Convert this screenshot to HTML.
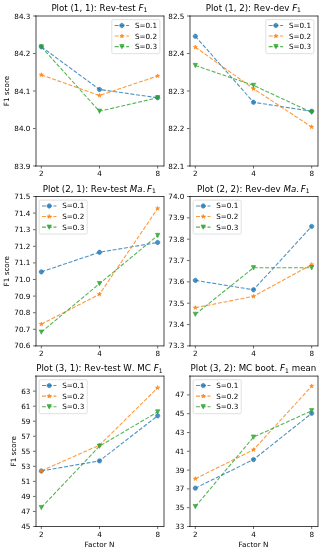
<!DOCTYPE html>
<html><head><meta charset="utf-8"><title>Plots</title>
<style>html,body{margin:0;padding:0;background:#fff;}body{width:322px;height:550px;overflow:hidden;}svg{display:block;}</style>
</head><body>
<svg width="322" height="550" viewBox="0 0 445.846 761.538">
<defs>
<style type="text/css">*{stroke-linejoin: round; stroke-linecap: butt}</style>
</defs>
<g id="figure_1">
<g id="patch_1">
<path d="M 0 761.538462 L 445.846154 761.538462 L 445.846154 0 L 0 0 z" style="fill: #ffffff"/>
</g>
<g id="axes_1">
<g id="patch_2">
<path d="M 49.153846 229.846154 L 226.384615 229.846154 L 226.384615 22.153846 L 49.153846 22.153846 z" style="fill: #ffffff"/>
</g>
<g id="matplotlib.axis_1">
<g id="xtick_1">
<g id="line2d_1">
<g>
<path d="M 0 0 L 0 3.5" transform="translate(57.20979 229.846154)" style="stroke: #000000; stroke-width: 0.8"/>
</g>
</g>
<g id="text_1">
<text style="font-size: 10px; font-family: 'DejaVu Sans', sans-serif; text-anchor: middle" x="57.20979" y="244.144591" transform="rotate(-0 57.20979 244.144591)">2</text>
</g>
</g>
<g id="xtick_2">
<g id="line2d_2">
<g>
<path d="M 0 0 L 0 3.5" transform="translate(137.769231 229.846154)" style="stroke: #000000; stroke-width: 0.8"/>
</g>
</g>
<g id="text_2">
<text style="font-size: 10px; font-family: 'DejaVu Sans', sans-serif; text-anchor: middle" x="137.769231" y="244.144591" transform="rotate(-0 137.769231 244.144591)">4</text>
</g>
</g>
<g id="xtick_3">
<g id="line2d_3">
<g>
<path d="M 0 0 L 0 3.5" transform="translate(218.328671 229.846154)" style="stroke: #000000; stroke-width: 0.8"/>
</g>
</g>
<g id="text_3">
<text style="font-size: 10px; font-family: 'DejaVu Sans', sans-serif; text-anchor: middle" x="218.328671" y="244.144591" transform="rotate(-0 218.328671 244.144591)">8</text>
</g>
</g>
</g>
<g id="matplotlib.axis_2">
<g id="ytick_1">
<g id="line2d_4">
<g>
<path d="M 0 0 L -3.5 0" transform="translate(49.153846 229.846154)" style="stroke: #000000; stroke-width: 0.8"/>
</g>
</g>
<g id="text_4">
<text style="font-size: 10px; font-family: 'DejaVu Sans', sans-serif; text-anchor: end" x="42.153846" y="233.36845" transform="rotate(-0 42.153846 233.36845)">83.9</text>
</g>
</g>
<g id="ytick_2">
<g id="line2d_5">
<g>
<path d="M 0 0 L -3.5 0" transform="translate(49.153846 177.923077)" style="stroke: #000000; stroke-width: 0.8"/>
</g>
</g>
<g id="text_5">
<text style="font-size: 10px; font-family: 'DejaVu Sans', sans-serif; text-anchor: end" x="42.153846" y="181.445373" transform="rotate(-0 42.153846 181.445373)">84.0</text>
</g>
</g>
<g id="ytick_3">
<g id="line2d_6">
<g>
<path d="M 0 0 L -3.5 0" transform="translate(49.153846 126)" style="stroke: #000000; stroke-width: 0.8"/>
</g>
</g>
<g id="text_6">
<text style="font-size: 10px; font-family: 'DejaVu Sans', sans-serif; text-anchor: end" x="42.153846" y="129.522296" transform="rotate(-0 42.153846 129.522296)">84.1</text>
</g>
</g>
<g id="ytick_4">
<g id="line2d_7">
<g>
<path d="M 0 0 L -3.5 0" transform="translate(49.153846 74.076923)" style="stroke: #000000; stroke-width: 0.8"/>
</g>
</g>
<g id="text_7">
<text style="font-size: 10px; font-family: 'DejaVu Sans', sans-serif; text-anchor: end" x="42.153846" y="77.599219" transform="rotate(-0 42.153846 77.599219)">84.2</text>
</g>
</g>
<g id="ytick_5">
<g id="line2d_8">
<g>
<path d="M 0 0 L -3.5 0" transform="translate(49.153846 22.153846)" style="stroke: #000000; stroke-width: 0.8"/>
</g>
</g>
<g id="text_8">
<text style="font-size: 10px; font-family: 'DejaVu Sans', sans-serif; text-anchor: end" x="42.153846" y="25.676142" transform="rotate(-0 42.153846 25.676142)">84.3</text>
</g>
</g>
<g id="text_9">
<text style="font-size: 10px; font-family: 'DejaVu Sans', sans-serif; text-anchor: middle" x="13.008534" y="126" transform="rotate(-90 13.008534 126)">F1 score</text>
</g>
</g>
<g id="line2d_9">
<path d="M 57.20979 64.730769 L 137.769231 123.923077 L 218.328671 135.346154" clip-path="url(#pee5f3b1efb)" style="fill: none; stroke-dasharray: 5.55,2.4; stroke-dashoffset: 0; stroke: #1f77b4; stroke-opacity: 0.8; stroke-width: 1.5"/>
<g clip-path="url(#pee5f3b1efb)">
<path d="M 0 3 C 0.795609 3 1.55874 2.683901 2.12132 2.12132 C 2.683901 1.55874 3 0.795609 3 0 C 3 -0.795609 2.683901 -1.55874 2.12132 -2.12132 C 1.55874 -2.683901 0.795609 -3 0 -3 C -0.795609 -3 -1.55874 -2.683901 -2.12132 -2.12132 C -2.683901 -1.55874 -3 -0.795609 -3 0 C -3 0.795609 -2.683901 1.55874 -2.12132 2.12132 C -1.55874 2.683901 -0.795609 3 0 3 z" transform="translate(57.20979 64.730769)" style="fill: #1f77b4; fill-opacity: 0.8; stroke: #1f77b4; stroke-opacity: 0.8"/>
<path d="M 0 3 C 0.795609 3 1.55874 2.683901 2.12132 2.12132 C 2.683901 1.55874 3 0.795609 3 0 C 3 -0.795609 2.683901 -1.55874 2.12132 -2.12132 C 1.55874 -2.683901 0.795609 -3 0 -3 C -0.795609 -3 -1.55874 -2.683901 -2.12132 -2.12132 C -2.683901 -1.55874 -3 -0.795609 -3 0 C -3 0.795609 -2.683901 1.55874 -2.12132 2.12132 C -1.55874 2.683901 -0.795609 3 0 3 z" transform="translate(137.769231 123.923077)" style="fill: #1f77b4; fill-opacity: 0.8; stroke: #1f77b4; stroke-opacity: 0.8"/>
<path d="M 0 3 C 0.795609 3 1.55874 2.683901 2.12132 2.12132 C 2.683901 1.55874 3 0.795609 3 0 C 3 -0.795609 2.683901 -1.55874 2.12132 -2.12132 C 1.55874 -2.683901 0.795609 -3 0 -3 C -0.795609 -3 -1.55874 -2.683901 -2.12132 -2.12132 C -2.683901 -1.55874 -3 -0.795609 -3 0 C -3 0.795609 -2.683901 1.55874 -2.12132 2.12132 C -1.55874 2.683901 -0.795609 3 0 3 z" transform="translate(218.328671 135.346154)" style="fill: #1f77b4; fill-opacity: 0.8; stroke: #1f77b4; stroke-opacity: 0.8"/>
</g>
</g>
<g id="line2d_10">
<path d="M 57.20979 103.673077 L 137.769231 132.230769 L 218.328671 105.230769" clip-path="url(#pee5f3b1efb)" style="fill: none; stroke-dasharray: 5.55,2.4; stroke-dashoffset: 0; stroke: #ff7f0e; stroke-opacity: 0.8; stroke-width: 1.5"/>
<g clip-path="url(#pee5f3b1efb)">
<path d="M 0 -3 L -0.673542 -0.927051 L -2.85317 -0.927051 L -1.089814 0.354102 L -1.763356 2.427051 L -0 1.145898 L 1.763356 2.427051 L 1.089814 0.354102 L 2.85317 -0.927051 L 0.673542 -0.927051 z" transform="translate(57.20979 103.673077)" style="fill: #ff7f0e; fill-opacity: 0.8; stroke: #ff7f0e; stroke-opacity: 0.8; stroke-linejoin: bevel"/>
<path d="M 0 -3 L -0.673542 -0.927051 L -2.85317 -0.927051 L -1.089814 0.354102 L -1.763356 2.427051 L -0 1.145898 L 1.763356 2.427051 L 1.089814 0.354102 L 2.85317 -0.927051 L 0.673542 -0.927051 z" transform="translate(137.769231 132.230769)" style="fill: #ff7f0e; fill-opacity: 0.8; stroke: #ff7f0e; stroke-opacity: 0.8; stroke-linejoin: bevel"/>
<path d="M 0 -3 L -0.673542 -0.927051 L -2.85317 -0.927051 L -1.089814 0.354102 L -1.763356 2.427051 L -0 1.145898 L 1.763356 2.427051 L 1.089814 0.354102 L 2.85317 -0.927051 L 0.673542 -0.927051 z" transform="translate(218.328671 105.230769)" style="fill: #ff7f0e; fill-opacity: 0.8; stroke: #ff7f0e; stroke-opacity: 0.8; stroke-linejoin: bevel"/>
</g>
</g>
<g id="line2d_11">
<path d="M 57.20979 64.990385 L 137.769231 154.038462 L 218.328671 135.346154" clip-path="url(#pee5f3b1efb)" style="fill: none; stroke-dasharray: 5.55,2.4; stroke-dashoffset: 0; stroke: #2ca02c; stroke-opacity: 0.8; stroke-width: 1.5"/>
<g clip-path="url(#pee5f3b1efb)">
<path d="M -0 3 L 3 -3 L -3 -3 z" transform="translate(57.20979 64.990385)" style="fill: #2ca02c; fill-opacity: 0.8; stroke: #2ca02c; stroke-opacity: 0.8; stroke-linejoin: miter"/>
<path d="M -0 3 L 3 -3 L -3 -3 z" transform="translate(137.769231 154.038462)" style="fill: #2ca02c; fill-opacity: 0.8; stroke: #2ca02c; stroke-opacity: 0.8; stroke-linejoin: miter"/>
<path d="M -0 3 L 3 -3 L -3 -3 z" transform="translate(218.328671 135.346154)" style="fill: #2ca02c; fill-opacity: 0.8; stroke: #2ca02c; stroke-opacity: 0.8; stroke-linejoin: miter"/>
</g>
</g>
<g id="sp_00_left" transform="translate(0.692308 0)">
<path d="M 49.153846 229.846154 L 49.153846 22.153846" style="fill: none; stroke: #000000; stroke-linejoin: miter; stroke-linecap: square"/>
</g>
<g id="sp_00_right" transform="translate(0.692308 0)">
<path d="M 226.384615 229.846154 L 226.384615 22.153846" style="fill: none; stroke: #000000; stroke-linejoin: miter; stroke-linecap: square"/>
</g>
<g id="sp_00_bottom">
<path d="M 49.153846 229.846154 L 226.384615 229.846154" style="fill: none; stroke: #000000; stroke-linejoin: miter; stroke-linecap: square"/>
</g>
<g id="sp_00_top">
<path d="M 49.153846 22.153846 L 226.384615 22.153846" style="fill: none; stroke: #000000; stroke-linejoin: miter; stroke-linecap: square"/>
</g>
<g id="text_10">
<g transform="translate(71.169231 16.153846)">
<text style="white-space: pre"><tspan x="0 7.236328 10.570312 17.912109 22.617188 26.431641 31.113281 38.748047 42.5625 46.376953 54.011719 58.693359 62.736328 66.550781 74.888672 82.271484 89.373047 93.703125 98.408203 105.791016 112.042969 116.748047" y="-0.875" style="font-size: 12px; font-family: 'DejaVu Sans', sans-serif">Plot (1, 1): Rev-test </tspan><tspan x="120.5625" y="-0.875" style="font-style: oblique; font-size: 12px; font-family: 'DejaVu Sans', sans-serif">F</tspan><tspan x="127.464844" y="1.09375" style="font-size: 8.4px; font-family: 'DejaVu Sans', sans-serif">1</tspan></text>
</g>
</g>
<g id="legend_1">
<g id="patch_3">
<path d="M 156.753365 74.188221 L 219.384615 74.188221 Q 221.384615 74.188221 221.384615 72.188221 L 221.384615 29.153846 Q 221.384615 27.153846 219.384615 27.153846 L 156.753365 27.153846 Q 154.753365 27.153846 154.753365 29.153846 L 154.753365 72.188221 Q 154.753365 74.188221 156.753365 74.188221 z" style="fill: #ffffff; opacity: 0.8; stroke: #cccccc; stroke-linejoin: miter"/>
</g>
<g id="line2d_12">
<path d="M 158.753365 35.252284 L 168.753365 35.252284 L 178.753365 35.252284" style="fill: none; stroke-dasharray: 5.55,2.4; stroke-dashoffset: 0; stroke: #1f77b4; stroke-opacity: 0.8; stroke-width: 1.5"/>
<g>
<path d="M 0 3 C 0.795609 3 1.55874 2.683901 2.12132 2.12132 C 2.683901 1.55874 3 0.795609 3 0 C 3 -0.795609 2.683901 -1.55874 2.12132 -2.12132 C 1.55874 -2.683901 0.795609 -3 0 -3 C -0.795609 -3 -1.55874 -2.683901 -2.12132 -2.12132 C -2.683901 -1.55874 -3 -0.795609 -3 0 C -3 0.795609 -2.683901 1.55874 -2.12132 2.12132 C -1.55874 2.683901 -0.795609 3 0 3 z" transform="translate(168.753365 35.252284)" style="fill: #1f77b4; fill-opacity: 0.8; stroke: #1f77b4; stroke-opacity: 0.8"/>
</g>
</g>
<g id="text_11">
<text style="font-size: 10px; font-family: 'DejaVu Sans', sans-serif; text-anchor: start" x="186.753365" y="38.752284" transform="rotate(-0 186.753365 38.752284)">S=0.1</text>
</g>
<g id="line2d_13">
<path d="M 158.753365 49.930409 L 168.753365 49.930409 L 178.753365 49.930409" style="fill: none; stroke-dasharray: 5.55,2.4; stroke-dashoffset: 0; stroke: #ff7f0e; stroke-opacity: 0.8; stroke-width: 1.5"/>
<g>
<path d="M 0 -3 L -0.673542 -0.927051 L -2.85317 -0.927051 L -1.089814 0.354102 L -1.763356 2.427051 L -0 1.145898 L 1.763356 2.427051 L 1.089814 0.354102 L 2.85317 -0.927051 L 0.673542 -0.927051 z" transform="translate(168.753365 49.930409)" style="fill: #ff7f0e; fill-opacity: 0.8; stroke: #ff7f0e; stroke-opacity: 0.8; stroke-linejoin: bevel"/>
</g>
</g>
<g id="text_12">
<text style="font-size: 10px; font-family: 'DejaVu Sans', sans-serif; text-anchor: start" x="186.753365" y="53.430409" transform="rotate(-0 186.753365 53.430409)">S=0.2</text>
</g>
<g id="line2d_14">
<path d="M 158.753365 64.608534 L 168.753365 64.608534 L 178.753365 64.608534" style="fill: none; stroke-dasharray: 5.55,2.4; stroke-dashoffset: 0; stroke: #2ca02c; stroke-opacity: 0.8; stroke-width: 1.5"/>
<g>
<path d="M -0 3 L 3 -3 L -3 -3 z" transform="translate(168.753365 64.608534)" style="fill: #2ca02c; fill-opacity: 0.8; stroke: #2ca02c; stroke-opacity: 0.8; stroke-linejoin: miter"/>
</g>
</g>
<g id="text_13">
<text style="font-size: 10px; font-family: 'DejaVu Sans', sans-serif; text-anchor: start" x="186.753365" y="68.108534" transform="rotate(-0 186.753365 68.108534)">S=0.3</text>
</g>
</g>
</g>
<g id="axes_2">
<g id="patch_4">
<path d="M 262.384615 229.846154 L 439.615385 229.846154 L 439.615385 22.153846 L 262.384615 22.153846 z" style="fill: #ffffff"/>
</g>
<g id="matplotlib.axis_3">
<g id="xtick_4">
<g id="line2d_15">
<g>
<path d="M 0 0 L 0 3.5" transform="translate(270.440559 229.846154)" style="stroke: #000000; stroke-width: 0.8"/>
</g>
</g>
<g id="text_14">
<text style="font-size: 10px; font-family: 'DejaVu Sans', sans-serif; text-anchor: middle" x="270.440559" y="244.144591" transform="rotate(-0 270.440559 244.144591)">2</text>
</g>
</g>
<g id="xtick_5">
<g id="line2d_16">
<g>
<path d="M 0 0 L 0 3.5" transform="translate(351 229.846154)" style="stroke: #000000; stroke-width: 0.8"/>
</g>
</g>
<g id="text_15">
<text style="font-size: 10px; font-family: 'DejaVu Sans', sans-serif; text-anchor: middle" x="351" y="244.144591" transform="rotate(-0 351 244.144591)">4</text>
</g>
</g>
<g id="xtick_6">
<g id="line2d_17">
<g>
<path d="M 0 0 L 0 3.5" transform="translate(431.559441 229.846154)" style="stroke: #000000; stroke-width: 0.8"/>
</g>
</g>
<g id="text_16">
<text style="font-size: 10px; font-family: 'DejaVu Sans', sans-serif; text-anchor: middle" x="431.559441" y="244.144591" transform="rotate(-0 431.559441 244.144591)">8</text>
</g>
</g>
</g>
<g id="matplotlib.axis_4">
<g id="ytick_6">
<g id="line2d_18">
<g>
<path d="M 0 0 L -3.5 0" transform="translate(262.384615 229.846154)" style="stroke: #000000; stroke-width: 0.8"/>
</g>
</g>
<g id="text_17">
<text style="font-size: 10px; font-family: 'DejaVu Sans', sans-serif; text-anchor: end" x="255.384615" y="233.36845" transform="rotate(-0 255.384615 233.36845)">82.1</text>
</g>
</g>
<g id="ytick_7">
<g id="line2d_19">
<g>
<path d="M 0 0 L -3.5 0" transform="translate(262.384615 177.923077)" style="stroke: #000000; stroke-width: 0.8"/>
</g>
</g>
<g id="text_18">
<text style="font-size: 10px; font-family: 'DejaVu Sans', sans-serif; text-anchor: end" x="255.384615" y="181.445373" transform="rotate(-0 255.384615 181.445373)">82.2</text>
</g>
</g>
<g id="ytick_8">
<g id="line2d_20">
<g>
<path d="M 0 0 L -3.5 0" transform="translate(262.384615 126)" style="stroke: #000000; stroke-width: 0.8"/>
</g>
</g>
<g id="text_19">
<text style="font-size: 10px; font-family: 'DejaVu Sans', sans-serif; text-anchor: end" x="255.384615" y="129.522296" transform="rotate(-0 255.384615 129.522296)">82.3</text>
</g>
</g>
<g id="ytick_9">
<g id="line2d_21">
<g>
<path d="M 0 0 L -3.5 0" transform="translate(262.384615 74.076923)" style="stroke: #000000; stroke-width: 0.8"/>
</g>
</g>
<g id="text_20">
<text style="font-size: 10px; font-family: 'DejaVu Sans', sans-serif; text-anchor: end" x="255.384615" y="77.599219" transform="rotate(-0 255.384615 77.599219)">82.4</text>
</g>
</g>
<g id="ytick_10">
<g id="line2d_22">
<g>
<path d="M 0 0 L -3.5 0" transform="translate(262.384615 22.153846)" style="stroke: #000000; stroke-width: 0.8"/>
</g>
</g>
<g id="text_21">
<text style="font-size: 10px; font-family: 'DejaVu Sans', sans-serif; text-anchor: end" x="255.384615" y="25.676142" transform="rotate(-0 255.384615 25.676142)">82.5</text>
</g>
</g>
</g>
<g id="line2d_23">
<path d="M 270.440559 50.192308 L 351 141.576923 L 431.559441 154.038462" clip-path="url(#p6c888c3117)" style="fill: none; stroke-dasharray: 5.55,2.4; stroke-dashoffset: 0; stroke: #1f77b4; stroke-opacity: 0.8; stroke-width: 1.5"/>
<g clip-path="url(#p6c888c3117)">
<path d="M 0 3 C 0.795609 3 1.55874 2.683901 2.12132 2.12132 C 2.683901 1.55874 3 0.795609 3 0 C 3 -0.795609 2.683901 -1.55874 2.12132 -2.12132 C 1.55874 -2.683901 0.795609 -3 0 -3 C -0.795609 -3 -1.55874 -2.683901 -2.12132 -2.12132 C -2.683901 -1.55874 -3 -0.795609 -3 0 C -3 0.795609 -2.683901 1.55874 -2.12132 2.12132 C -1.55874 2.683901 -0.795609 3 0 3 z" transform="translate(270.440559 50.192308)" style="fill: #1f77b4; fill-opacity: 0.8; stroke: #1f77b4; stroke-opacity: 0.8"/>
<path d="M 0 3 C 0.795609 3 1.55874 2.683901 2.12132 2.12132 C 2.683901 1.55874 3 0.795609 3 0 C 3 -0.795609 2.683901 -1.55874 2.12132 -2.12132 C 1.55874 -2.683901 0.795609 -3 0 -3 C -0.795609 -3 -1.55874 -2.683901 -2.12132 -2.12132 C -2.683901 -1.55874 -3 -0.795609 -3 0 C -3 0.795609 -2.683901 1.55874 -2.12132 2.12132 C -1.55874 2.683901 -0.795609 3 0 3 z" transform="translate(351 141.576923)" style="fill: #1f77b4; fill-opacity: 0.8; stroke: #1f77b4; stroke-opacity: 0.8"/>
<path d="M 0 3 C 0.795609 3 1.55874 2.683901 2.12132 2.12132 C 2.683901 1.55874 3 0.795609 3 0 C 3 -0.795609 2.683901 -1.55874 2.12132 -2.12132 C 1.55874 -2.683901 0.795609 -3 0 -3 C -0.795609 -3 -1.55874 -2.683901 -2.12132 -2.12132 C -2.683901 -1.55874 -3 -0.795609 -3 0 C -3 0.795609 -2.683901 1.55874 -2.12132 2.12132 C -1.55874 2.683901 -0.795609 3 0 3 z" transform="translate(431.559441 154.038462)" style="fill: #1f77b4; fill-opacity: 0.8; stroke: #1f77b4; stroke-opacity: 0.8"/>
</g>
</g>
<g id="line2d_24">
<path d="M 270.440559 65.25 L 351 122.884615 L 431.559441 175.846154" clip-path="url(#p6c888c3117)" style="fill: none; stroke-dasharray: 5.55,2.4; stroke-dashoffset: 0; stroke: #ff7f0e; stroke-opacity: 0.8; stroke-width: 1.5"/>
<g clip-path="url(#p6c888c3117)">
<path d="M 0 -3 L -0.673542 -0.927051 L -2.85317 -0.927051 L -1.089814 0.354102 L -1.763356 2.427051 L -0 1.145898 L 1.763356 2.427051 L 1.089814 0.354102 L 2.85317 -0.927051 L 0.673542 -0.927051 z" transform="translate(270.440559 65.25)" style="fill: #ff7f0e; fill-opacity: 0.8; stroke: #ff7f0e; stroke-opacity: 0.8; stroke-linejoin: bevel"/>
<path d="M 0 -3 L -0.673542 -0.927051 L -2.85317 -0.927051 L -1.089814 0.354102 L -1.763356 2.427051 L -0 1.145898 L 1.763356 2.427051 L 1.089814 0.354102 L 2.85317 -0.927051 L 0.673542 -0.927051 z" transform="translate(351 122.884615)" style="fill: #ff7f0e; fill-opacity: 0.8; stroke: #ff7f0e; stroke-opacity: 0.8; stroke-linejoin: bevel"/>
<path d="M 0 -3 L -0.673542 -0.927051 L -2.85317 -0.927051 L -1.089814 0.354102 L -1.763356 2.427051 L -0 1.145898 L 1.763356 2.427051 L 1.089814 0.354102 L 2.85317 -0.927051 L 0.673542 -0.927051 z" transform="translate(431.559441 175.846154)" style="fill: #ff7f0e; fill-opacity: 0.8; stroke: #ff7f0e; stroke-opacity: 0.8; stroke-linejoin: bevel"/>
</g>
</g>
<g id="line2d_25">
<path d="M 270.440559 90.692308 L 351 118.211538 L 431.559441 155.596154" clip-path="url(#p6c888c3117)" style="fill: none; stroke-dasharray: 5.55,2.4; stroke-dashoffset: 0; stroke: #2ca02c; stroke-opacity: 0.8; stroke-width: 1.5"/>
<g clip-path="url(#p6c888c3117)">
<path d="M -0 3 L 3 -3 L -3 -3 z" transform="translate(270.440559 90.692308)" style="fill: #2ca02c; fill-opacity: 0.8; stroke: #2ca02c; stroke-opacity: 0.8; stroke-linejoin: miter"/>
<path d="M -0 3 L 3 -3 L -3 -3 z" transform="translate(351 118.211538)" style="fill: #2ca02c; fill-opacity: 0.8; stroke: #2ca02c; stroke-opacity: 0.8; stroke-linejoin: miter"/>
<path d="M -0 3 L 3 -3 L -3 -3 z" transform="translate(431.559441 155.596154)" style="fill: #2ca02c; fill-opacity: 0.8; stroke: #2ca02c; stroke-opacity: 0.8; stroke-linejoin: miter"/>
</g>
</g>
<g id="sp_01_left" transform="translate(0.692308 0)">
<path d="M 262.384615 229.846154 L 262.384615 22.153846" style="fill: none; stroke: #000000; stroke-linejoin: miter; stroke-linecap: square"/>
</g>
<g id="sp_01_right" transform="translate(0.692308 0)">
<path d="M 439.615385 229.846154 L 439.615385 22.153846" style="fill: none; stroke: #000000; stroke-linejoin: miter; stroke-linecap: square"/>
</g>
<g id="sp_01_bottom">
<path d="M 262.384615 229.846154 L 439.615385 229.846154" style="fill: none; stroke: #000000; stroke-linejoin: miter; stroke-linecap: square"/>
</g>
<g id="sp_01_top">
<path d="M 262.384615 22.153846 L 439.615385 22.153846" style="fill: none; stroke: #000000; stroke-linejoin: miter; stroke-linecap: square"/>
</g>
<g id="text_22">
<g transform="translate(284.88 16.153846)">
<text style="white-space: pre"><tspan x="0 7.236328 10.570312 17.912109 22.617188 26.431641 31.113281 38.748047 42.5625 46.376953 54.011719 58.693359 62.736328 66.550781 74.888672 82.271484 89.373047 93.703125 101.320312 108.703125 115.804688" y="-0.875" style="font-size: 12px; font-family: 'DejaVu Sans', sans-serif">Plot (1, 2): Rev-dev </tspan><tspan x="119.619141" y="-0.875" style="font-style: oblique; font-size: 12px; font-family: 'DejaVu Sans', sans-serif">F</tspan><tspan x="126.521484" y="1.09375" style="font-size: 8.4px; font-family: 'DejaVu Sans', sans-serif">1</tspan></text>
</g>
</g>
<g id="legend_2">
<g id="patch_5">
<path d="M 369.984135 74.188221 L 432.615385 74.188221 Q 434.615385 74.188221 434.615385 72.188221 L 434.615385 29.153846 Q 434.615385 27.153846 432.615385 27.153846 L 369.984135 27.153846 Q 367.984135 27.153846 367.984135 29.153846 L 367.984135 72.188221 Q 367.984135 74.188221 369.984135 74.188221 z" style="fill: #ffffff; opacity: 0.8; stroke: #cccccc; stroke-linejoin: miter"/>
</g>
<g id="line2d_26">
<path d="M 371.984135 35.252284 L 381.984135 35.252284 L 391.984135 35.252284" style="fill: none; stroke-dasharray: 5.55,2.4; stroke-dashoffset: 0; stroke: #1f77b4; stroke-opacity: 0.8; stroke-width: 1.5"/>
<g>
<path d="M 0 3 C 0.795609 3 1.55874 2.683901 2.12132 2.12132 C 2.683901 1.55874 3 0.795609 3 0 C 3 -0.795609 2.683901 -1.55874 2.12132 -2.12132 C 1.55874 -2.683901 0.795609 -3 0 -3 C -0.795609 -3 -1.55874 -2.683901 -2.12132 -2.12132 C -2.683901 -1.55874 -3 -0.795609 -3 0 C -3 0.795609 -2.683901 1.55874 -2.12132 2.12132 C -1.55874 2.683901 -0.795609 3 0 3 z" transform="translate(381.984135 35.252284)" style="fill: #1f77b4; fill-opacity: 0.8; stroke: #1f77b4; stroke-opacity: 0.8"/>
</g>
</g>
<g id="text_23">
<text style="font-size: 10px; font-family: 'DejaVu Sans', sans-serif; text-anchor: start" x="399.984135" y="38.752284" transform="rotate(-0 399.984135 38.752284)">S=0.1</text>
</g>
<g id="line2d_27">
<path d="M 371.984135 49.930409 L 381.984135 49.930409 L 391.984135 49.930409" style="fill: none; stroke-dasharray: 5.55,2.4; stroke-dashoffset: 0; stroke: #ff7f0e; stroke-opacity: 0.8; stroke-width: 1.5"/>
<g>
<path d="M 0 -3 L -0.673542 -0.927051 L -2.85317 -0.927051 L -1.089814 0.354102 L -1.763356 2.427051 L -0 1.145898 L 1.763356 2.427051 L 1.089814 0.354102 L 2.85317 -0.927051 L 0.673542 -0.927051 z" transform="translate(381.984135 49.930409)" style="fill: #ff7f0e; fill-opacity: 0.8; stroke: #ff7f0e; stroke-opacity: 0.8; stroke-linejoin: bevel"/>
</g>
</g>
<g id="text_24">
<text style="font-size: 10px; font-family: 'DejaVu Sans', sans-serif; text-anchor: start" x="399.984135" y="53.430409" transform="rotate(-0 399.984135 53.430409)">S=0.2</text>
</g>
<g id="line2d_28">
<path d="M 371.984135 64.608534 L 381.984135 64.608534 L 391.984135 64.608534" style="fill: none; stroke-dasharray: 5.55,2.4; stroke-dashoffset: 0; stroke: #2ca02c; stroke-opacity: 0.8; stroke-width: 1.5"/>
<g>
<path d="M -0 3 L 3 -3 L -3 -3 z" transform="translate(381.984135 64.608534)" style="fill: #2ca02c; fill-opacity: 0.8; stroke: #2ca02c; stroke-opacity: 0.8; stroke-linejoin: miter"/>
</g>
</g>
<g id="text_25">
<text style="font-size: 10px; font-family: 'DejaVu Sans', sans-serif; text-anchor: start" x="399.984135" y="68.108534" transform="rotate(-0 399.984135 68.108534)">S=0.3</text>
</g>
</g>
</g>
<g id="axes_3">
<g id="patch_6">
<path d="M 49.153846 478.938462 L 226.384615 478.938462 L 226.384615 272.076923 L 49.153846 272.076923 z" style="fill: #ffffff"/>
</g>
<g id="matplotlib.axis_5">
<g id="xtick_7">
<g id="line2d_29">
<g>
<path d="M 0 0 L 0 3.5" transform="translate(57.20979 478.938462)" style="stroke: #000000; stroke-width: 0.8"/>
</g>
</g>
<g id="text_26">
<text style="font-size: 10px; font-family: 'DejaVu Sans', sans-serif; text-anchor: middle" x="57.20979" y="493.236899" transform="rotate(-0 57.20979 493.236899)">2</text>
</g>
</g>
<g id="xtick_8">
<g id="line2d_30">
<g>
<path d="M 0 0 L 0 3.5" transform="translate(137.769231 478.938462)" style="stroke: #000000; stroke-width: 0.8"/>
</g>
</g>
<g id="text_27">
<text style="font-size: 10px; font-family: 'DejaVu Sans', sans-serif; text-anchor: middle" x="137.769231" y="493.236899" transform="rotate(-0 137.769231 493.236899)">4</text>
</g>
</g>
<g id="xtick_9">
<g id="line2d_31">
<g>
<path d="M 0 0 L 0 3.5" transform="translate(218.328671 478.938462)" style="stroke: #000000; stroke-width: 0.8"/>
</g>
</g>
<g id="text_28">
<text style="font-size: 10px; font-family: 'DejaVu Sans', sans-serif; text-anchor: middle" x="218.328671" y="493.236899" transform="rotate(-0 218.328671 493.236899)">8</text>
</g>
</g>
</g>
<g id="matplotlib.axis_6">
<g id="ytick_11">
<g id="line2d_32">
<g>
<path d="M 0 0 L -3.5 0" transform="translate(49.153846 478.938462)" style="stroke: #000000; stroke-width: 0.8"/>
</g>
</g>
<g id="text_29">
<text style="font-size: 10px; font-family: 'DejaVu Sans', sans-serif; text-anchor: end" x="42.153846" y="482.460757" transform="rotate(-0 42.153846 482.460757)">70.6</text>
</g>
</g>
<g id="ytick_12">
<g id="line2d_33">
<g>
<path d="M 0 0 L -3.5 0" transform="translate(49.153846 455.953846)" style="stroke: #000000; stroke-width: 0.8"/>
</g>
</g>
<g id="text_30">
<text style="font-size: 10px; font-family: 'DejaVu Sans', sans-serif; text-anchor: end" x="42.153846" y="459.476142" transform="rotate(-0 42.153846 459.476142)">70.7</text>
</g>
</g>
<g id="ytick_13">
<g id="line2d_34">
<g>
<path d="M 0 0 L -3.5 0" transform="translate(49.153846 432.969231)" style="stroke: #000000; stroke-width: 0.8"/>
</g>
</g>
<g id="text_31">
<text style="font-size: 10px; font-family: 'DejaVu Sans', sans-serif; text-anchor: end" x="42.153846" y="436.491526" transform="rotate(-0 42.153846 436.491526)">70.8</text>
</g>
</g>
<g id="ytick_14">
<g id="line2d_35">
<g>
<path d="M 0 0 L -3.5 0" transform="translate(49.153846 409.984615)" style="stroke: #000000; stroke-width: 0.8"/>
</g>
</g>
<g id="text_32">
<text style="font-size: 10px; font-family: 'DejaVu Sans', sans-serif; text-anchor: end" x="42.153846" y="413.506911" transform="rotate(-0 42.153846 413.506911)">70.9</text>
</g>
</g>
<g id="ytick_15">
<g id="line2d_36">
<g>
<path d="M 0 0 L -3.5 0" transform="translate(49.153846 387)" style="stroke: #000000; stroke-width: 0.8"/>
</g>
</g>
<g id="text_33">
<text style="font-size: 10px; font-family: 'DejaVu Sans', sans-serif; text-anchor: end" x="42.153846" y="390.522296" transform="rotate(-0 42.153846 390.522296)">71.0</text>
</g>
</g>
<g id="ytick_16">
<g id="line2d_37">
<g>
<path d="M 0 0 L -3.5 0" transform="translate(49.153846 364.015385)" style="stroke: #000000; stroke-width: 0.8"/>
</g>
</g>
<g id="text_34">
<text style="font-size: 10px; font-family: 'DejaVu Sans', sans-serif; text-anchor: end" x="42.153846" y="367.53768" transform="rotate(-0 42.153846 367.53768)">71.1</text>
</g>
</g>
<g id="ytick_17">
<g id="line2d_38">
<g>
<path d="M 0 0 L -3.5 0" transform="translate(49.153846 341.030769)" style="stroke: #000000; stroke-width: 0.8"/>
</g>
</g>
<g id="text_35">
<text style="font-size: 10px; font-family: 'DejaVu Sans', sans-serif; text-anchor: end" x="42.153846" y="344.553065" transform="rotate(-0 42.153846 344.553065)">71.2</text>
</g>
</g>
<g id="ytick_18">
<g id="line2d_39">
<g>
<path d="M 0 0 L -3.5 0" transform="translate(49.153846 318.046154)" style="stroke: #000000; stroke-width: 0.8"/>
</g>
</g>
<g id="text_36">
<text style="font-size: 10px; font-family: 'DejaVu Sans', sans-serif; text-anchor: end" x="42.153846" y="321.56845" transform="rotate(-0 42.153846 321.56845)">71.3</text>
</g>
</g>
<g id="ytick_19">
<g id="line2d_40">
<g>
<path d="M 0 0 L -3.5 0" transform="translate(49.153846 295.061538)" style="stroke: #000000; stroke-width: 0.8"/>
</g>
</g>
<g id="text_37">
<text style="font-size: 10px; font-family: 'DejaVu Sans', sans-serif; text-anchor: end" x="42.153846" y="298.583834" transform="rotate(-0 42.153846 298.583834)">71.4</text>
</g>
</g>
<g id="ytick_20">
<g id="line2d_41">
<g>
<path d="M 0 0 L -3.5 0" transform="translate(49.153846 272.076923)" style="stroke: #000000; stroke-width: 0.8"/>
</g>
</g>
<g id="text_38">
<text style="font-size: 10px; font-family: 'DejaVu Sans', sans-serif; text-anchor: end" x="42.153846" y="275.599219" transform="rotate(-0 42.153846 275.599219)">71.5</text>
</g>
</g>
<g id="text_39">
<text style="font-size: 10px; font-family: 'DejaVu Sans', sans-serif; text-anchor: middle" x="13.008534" y="375.507692" transform="rotate(-90 13.008534 375.507692)">F1 score</text>
</g>
</g>
<g id="line2d_42">
<path d="M 57.20979 376.427077 L 137.769231 349.305231 L 218.328671 335.744308" clip-path="url(#pd9469f0c66)" style="fill: none; stroke-dasharray: 5.55,2.4; stroke-dashoffset: 0; stroke: #1f77b4; stroke-opacity: 0.8; stroke-width: 1.5"/>
<g clip-path="url(#pd9469f0c66)">
<path d="M 0 3 C 0.795609 3 1.55874 2.683901 2.12132 2.12132 C 2.683901 1.55874 3 0.795609 3 0 C 3 -0.795609 2.683901 -1.55874 2.12132 -2.12132 C 1.55874 -2.683901 0.795609 -3 0 -3 C -0.795609 -3 -1.55874 -2.683901 -2.12132 -2.12132 C -2.683901 -1.55874 -3 -0.795609 -3 0 C -3 0.795609 -2.683901 1.55874 -2.12132 2.12132 C -1.55874 2.683901 -0.795609 3 0 3 z" transform="translate(57.20979 376.427077)" style="fill: #1f77b4; fill-opacity: 0.8; stroke: #1f77b4; stroke-opacity: 0.8"/>
<path d="M 0 3 C 0.795609 3 1.55874 2.683901 2.12132 2.12132 C 2.683901 1.55874 3 0.795609 3 0 C 3 -0.795609 2.683901 -1.55874 2.12132 -2.12132 C 1.55874 -2.683901 0.795609 -3 0 -3 C -0.795609 -3 -1.55874 -2.683901 -2.12132 -2.12132 C -2.683901 -1.55874 -3 -0.795609 -3 0 C -3 0.795609 -2.683901 1.55874 -2.12132 2.12132 C -1.55874 2.683901 -0.795609 3 0 3 z" transform="translate(137.769231 349.305231)" style="fill: #1f77b4; fill-opacity: 0.8; stroke: #1f77b4; stroke-opacity: 0.8"/>
<path d="M 0 3 C 0.795609 3 1.55874 2.683901 2.12132 2.12132 C 2.683901 1.55874 3 0.795609 3 0 C 3 -0.795609 2.683901 -1.55874 2.12132 -2.12132 C 1.55874 -2.683901 0.795609 -3 0 -3 C -0.795609 -3 -1.55874 -2.683901 -2.12132 -2.12132 C -2.683901 -1.55874 -3 -0.795609 -3 0 C -3 0.795609 -2.683901 1.55874 -2.12132 2.12132 C -1.55874 2.683901 -0.795609 3 0 3 z" transform="translate(218.328671 335.744308)" style="fill: #1f77b4; fill-opacity: 0.8; stroke: #1f77b4; stroke-opacity: 0.8"/>
</g>
</g>
<g id="line2d_43">
<path d="M 57.20979 448.828615 L 137.769231 407.456308 L 218.328671 288.625846" clip-path="url(#pd9469f0c66)" style="fill: none; stroke-dasharray: 5.55,2.4; stroke-dashoffset: 0; stroke: #ff7f0e; stroke-opacity: 0.8; stroke-width: 1.5"/>
<g clip-path="url(#pd9469f0c66)">
<path d="M 0 -3 L -0.673542 -0.927051 L -2.85317 -0.927051 L -1.089814 0.354102 L -1.763356 2.427051 L -0 1.145898 L 1.763356 2.427051 L 1.089814 0.354102 L 2.85317 -0.927051 L 0.673542 -0.927051 z" transform="translate(57.20979 448.828615)" style="fill: #ff7f0e; fill-opacity: 0.8; stroke: #ff7f0e; stroke-opacity: 0.8; stroke-linejoin: bevel"/>
<path d="M 0 -3 L -0.673542 -0.927051 L -2.85317 -0.927051 L -1.089814 0.354102 L -1.763356 2.427051 L -0 1.145898 L 1.763356 2.427051 L 1.089814 0.354102 L 2.85317 -0.927051 L 0.673542 -0.927051 z" transform="translate(137.769231 407.456308)" style="fill: #ff7f0e; fill-opacity: 0.8; stroke: #ff7f0e; stroke-opacity: 0.8; stroke-linejoin: bevel"/>
<path d="M 0 -3 L -0.673542 -0.927051 L -2.85317 -0.927051 L -1.089814 0.354102 L -1.763356 2.427051 L -0 1.145898 L 1.763356 2.427051 L 1.089814 0.354102 L 2.85317 -0.927051 L 0.673542 -0.927051 z" transform="translate(218.328671 288.625846)" style="fill: #ff7f0e; fill-opacity: 0.8; stroke: #ff7f0e; stroke-opacity: 0.8; stroke-linejoin: bevel"/>
</g>
</g>
<g id="line2d_44">
<path d="M 57.20979 459.861231 L 137.769231 392.746154 L 218.328671 326.090769" clip-path="url(#pd9469f0c66)" style="fill: none; stroke-dasharray: 5.55,2.4; stroke-dashoffset: 0; stroke: #2ca02c; stroke-opacity: 0.8; stroke-width: 1.5"/>
<g clip-path="url(#pd9469f0c66)">
<path d="M -0 3 L 3 -3 L -3 -3 z" transform="translate(57.20979 459.861231)" style="fill: #2ca02c; fill-opacity: 0.8; stroke: #2ca02c; stroke-opacity: 0.8; stroke-linejoin: miter"/>
<path d="M -0 3 L 3 -3 L -3 -3 z" transform="translate(137.769231 392.746154)" style="fill: #2ca02c; fill-opacity: 0.8; stroke: #2ca02c; stroke-opacity: 0.8; stroke-linejoin: miter"/>
<path d="M -0 3 L 3 -3 L -3 -3 z" transform="translate(218.328671 326.090769)" style="fill: #2ca02c; fill-opacity: 0.8; stroke: #2ca02c; stroke-opacity: 0.8; stroke-linejoin: miter"/>
</g>
</g>
<g id="sp_10_left" transform="translate(0.692308 0)">
<path d="M 49.153846 478.938462 L 49.153846 272.076923" style="fill: none; stroke: #000000; stroke-linejoin: miter; stroke-linecap: square"/>
</g>
<g id="sp_10_right" transform="translate(0.692308 0)">
<path d="M 226.384615 478.938462 L 226.384615 272.076923" style="fill: none; stroke: #000000; stroke-linejoin: miter; stroke-linecap: square"/>
</g>
<g id="sp_10_bottom">
<path d="M 49.153846 478.938462 L 226.384615 478.938462" style="fill: none; stroke: #000000; stroke-linejoin: miter; stroke-linecap: square"/>
</g>
<g id="sp_10_top">
<path d="M 49.153846 272.076923 L 226.384615 272.076923" style="fill: none; stroke: #000000; stroke-linejoin: miter; stroke-linecap: square"/>
</g>
<g id="text_40">
<g transform="translate(59.229231 266.076923)">
<text style="white-space: pre"><tspan x="0 7.236328 10.570312 17.912109 22.617188 26.431641 31.113281 38.748047 42.5625 46.376953 54.011719 58.693359 62.736328 66.550781 74.888672 82.271484 89.373047 93.703125 98.408203 105.791016 112.042969 116.748047" y="-0.875" style="font-size: 12px; font-family: 'DejaVu Sans', sans-serif">Plot (2, 1): Rev-test </tspan><tspan x="120.5625 130.916016" y="-0.875" style="font-style: oblique; font-size: 12px; font-family: 'DejaVu Sans', sans-serif">Ma</tspan><tspan x="138.269531" y="-0.875" style="font-size: 12px; font-family: 'DejaVu Sans', sans-serif">.</tspan><tspan x="144.421875" y="-0.875" style="font-style: oblique; font-size: 12px; font-family: 'DejaVu Sans', sans-serif">F</tspan><tspan x="151.324219" y="1.09375" style="font-size: 8.4px; font-family: 'DejaVu Sans', sans-serif">1</tspan></text>
</g>
</g>
<g id="legend_3">
<g id="patch_7">
<path d="M 56.153846 324.111298 L 118.785096 324.111298 Q 120.785096 324.111298 120.785096 322.111298 L 120.785096 279.076923 Q 120.785096 277.076923 118.785096 277.076923 L 56.153846 277.076923 Q 54.153846 277.076923 54.153846 279.076923 L 54.153846 322.111298 Q 54.153846 324.111298 56.153846 324.111298 z" style="fill: #ffffff; opacity: 0.8; stroke: #cccccc; stroke-linejoin: miter"/>
</g>
<g id="line2d_45">
<path d="M 58.153846 285.175361 L 68.153846 285.175361 L 78.153846 285.175361" style="fill: none; stroke-dasharray: 5.55,2.4; stroke-dashoffset: 0; stroke: #1f77b4; stroke-opacity: 0.8; stroke-width: 1.5"/>
<g>
<path d="M 0 3 C 0.795609 3 1.55874 2.683901 2.12132 2.12132 C 2.683901 1.55874 3 0.795609 3 0 C 3 -0.795609 2.683901 -1.55874 2.12132 -2.12132 C 1.55874 -2.683901 0.795609 -3 0 -3 C -0.795609 -3 -1.55874 -2.683901 -2.12132 -2.12132 C -2.683901 -1.55874 -3 -0.795609 -3 0 C -3 0.795609 -2.683901 1.55874 -2.12132 2.12132 C -1.55874 2.683901 -0.795609 3 0 3 z" transform="translate(68.153846 285.175361)" style="fill: #1f77b4; fill-opacity: 0.8; stroke: #1f77b4; stroke-opacity: 0.8"/>
</g>
</g>
<g id="text_41">
<text style="font-size: 10px; font-family: 'DejaVu Sans', sans-serif; text-anchor: start" x="86.153846" y="288.675361" transform="rotate(-0 86.153846 288.675361)">S=0.1</text>
</g>
<g id="line2d_46">
<path d="M 58.153846 299.853486 L 68.153846 299.853486 L 78.153846 299.853486" style="fill: none; stroke-dasharray: 5.55,2.4; stroke-dashoffset: 0; stroke: #ff7f0e; stroke-opacity: 0.8; stroke-width: 1.5"/>
<g>
<path d="M 0 -3 L -0.673542 -0.927051 L -2.85317 -0.927051 L -1.089814 0.354102 L -1.763356 2.427051 L -0 1.145898 L 1.763356 2.427051 L 1.089814 0.354102 L 2.85317 -0.927051 L 0.673542 -0.927051 z" transform="translate(68.153846 299.853486)" style="fill: #ff7f0e; fill-opacity: 0.8; stroke: #ff7f0e; stroke-opacity: 0.8; stroke-linejoin: bevel"/>
</g>
</g>
<g id="text_42">
<text style="font-size: 10px; font-family: 'DejaVu Sans', sans-serif; text-anchor: start" x="86.153846" y="303.353486" transform="rotate(-0 86.153846 303.353486)">S=0.2</text>
</g>
<g id="line2d_47">
<path d="M 58.153846 314.531611 L 68.153846 314.531611 L 78.153846 314.531611" style="fill: none; stroke-dasharray: 5.55,2.4; stroke-dashoffset: 0; stroke: #2ca02c; stroke-opacity: 0.8; stroke-width: 1.5"/>
<g>
<path d="M -0 3 L 3 -3 L -3 -3 z" transform="translate(68.153846 314.531611)" style="fill: #2ca02c; fill-opacity: 0.8; stroke: #2ca02c; stroke-opacity: 0.8; stroke-linejoin: miter"/>
</g>
</g>
<g id="text_43">
<text style="font-size: 10px; font-family: 'DejaVu Sans', sans-serif; text-anchor: start" x="86.153846" y="318.031611" transform="rotate(-0 86.153846 318.031611)">S=0.3</text>
</g>
</g>
</g>
<g id="axes_4">
<g id="patch_8">
<path d="M 262.384615 478.938462 L 439.615385 478.938462 L 439.615385 272.076923 L 262.384615 272.076923 z" style="fill: #ffffff"/>
</g>
<g id="matplotlib.axis_7">
<g id="xtick_10">
<g id="line2d_48">
<g>
<path d="M 0 0 L 0 3.5" transform="translate(270.440559 478.938462)" style="stroke: #000000; stroke-width: 0.8"/>
</g>
</g>
<g id="text_44">
<text style="font-size: 10px; font-family: 'DejaVu Sans', sans-serif; text-anchor: middle" x="270.440559" y="493.236899" transform="rotate(-0 270.440559 493.236899)">2</text>
</g>
</g>
<g id="xtick_11">
<g id="line2d_49">
<g>
<path d="M 0 0 L 0 3.5" transform="translate(351 478.938462)" style="stroke: #000000; stroke-width: 0.8"/>
</g>
</g>
<g id="text_45">
<text style="font-size: 10px; font-family: 'DejaVu Sans', sans-serif; text-anchor: middle" x="351" y="493.236899" transform="rotate(-0 351 493.236899)">4</text>
</g>
</g>
<g id="xtick_12">
<g id="line2d_50">
<g>
<path d="M 0 0 L 0 3.5" transform="translate(431.559441 478.938462)" style="stroke: #000000; stroke-width: 0.8"/>
</g>
</g>
<g id="text_46">
<text style="font-size: 10px; font-family: 'DejaVu Sans', sans-serif; text-anchor: middle" x="431.559441" y="493.236899" transform="rotate(-0 431.559441 493.236899)">8</text>
</g>
</g>
</g>
<g id="matplotlib.axis_8">
<g id="ytick_21">
<g id="line2d_51">
<g>
<path d="M 0 0 L -3.5 0" transform="translate(262.384615 478.938462)" style="stroke: #000000; stroke-width: 0.8"/>
</g>
</g>
<g id="text_47">
<text style="font-size: 10px; font-family: 'DejaVu Sans', sans-serif; text-anchor: end" x="255.384615" y="482.460757" transform="rotate(-0 255.384615 482.460757)">73.3</text>
</g>
</g>
<g id="ytick_22">
<g id="line2d_52">
<g>
<path d="M 0 0 L -3.5 0" transform="translate(262.384615 449.386813)" style="stroke: #000000; stroke-width: 0.8"/>
</g>
</g>
<g id="text_48">
<text style="font-size: 10px; font-family: 'DejaVu Sans', sans-serif; text-anchor: end" x="255.384615" y="452.909109" transform="rotate(-0 255.384615 452.909109)">73.4</text>
</g>
</g>
<g id="ytick_23">
<g id="line2d_53">
<g>
<path d="M 0 0 L -3.5 0" transform="translate(262.384615 419.835165)" style="stroke: #000000; stroke-width: 0.8"/>
</g>
</g>
<g id="text_49">
<text style="font-size: 10px; font-family: 'DejaVu Sans', sans-serif; text-anchor: end" x="255.384615" y="423.357461" transform="rotate(-0 255.384615 423.357461)">73.5</text>
</g>
</g>
<g id="ytick_24">
<g id="line2d_54">
<g>
<path d="M 0 0 L -3.5 0" transform="translate(262.384615 390.283516)" style="stroke: #000000; stroke-width: 0.8"/>
</g>
</g>
<g id="text_50">
<text style="font-size: 10px; font-family: 'DejaVu Sans', sans-serif; text-anchor: end" x="255.384615" y="393.805812" transform="rotate(-0 255.384615 393.805812)">73.6</text>
</g>
</g>
<g id="ytick_25">
<g id="line2d_55">
<g>
<path d="M 0 0 L -3.5 0" transform="translate(262.384615 360.731868)" style="stroke: #000000; stroke-width: 0.8"/>
</g>
</g>
<g id="text_51">
<text style="font-size: 10px; font-family: 'DejaVu Sans', sans-serif; text-anchor: end" x="255.384615" y="364.254164" transform="rotate(-0 255.384615 364.254164)">73.7</text>
</g>
</g>
<g id="ytick_26">
<g id="line2d_56">
<g>
<path d="M 0 0 L -3.5 0" transform="translate(262.384615 331.18022)" style="stroke: #000000; stroke-width: 0.8"/>
</g>
</g>
<g id="text_52">
<text style="font-size: 10px; font-family: 'DejaVu Sans', sans-serif; text-anchor: end" x="255.384615" y="334.702515" transform="rotate(-0 255.384615 334.702515)">73.8</text>
</g>
</g>
<g id="ytick_27">
<g id="line2d_57">
<g>
<path d="M 0 0 L -3.5 0" transform="translate(262.384615 301.628571)" style="stroke: #000000; stroke-width: 0.8"/>
</g>
</g>
<g id="text_53">
<text style="font-size: 10px; font-family: 'DejaVu Sans', sans-serif; text-anchor: end" x="255.384615" y="305.150867" transform="rotate(-0 255.384615 305.150867)">73.9</text>
</g>
</g>
<g id="ytick_28">
<g id="line2d_58">
<g>
<path d="M 0 0 L -3.5 0" transform="translate(262.384615 272.076923)" style="stroke: #000000; stroke-width: 0.8"/>
</g>
</g>
<g id="text_54">
<text style="font-size: 10px; font-family: 'DejaVu Sans', sans-serif; text-anchor: end" x="255.384615" y="275.599219" transform="rotate(-0 255.384615 275.599219)">74.0</text>
</g>
</g>
</g>
<g id="line2d_59">
<path d="M 270.440559 388.214901 L 351 401.217626 L 431.559441 313.449231" clip-path="url(#p5639c1ad0f)" style="fill: none; stroke-dasharray: 5.55,2.4; stroke-dashoffset: 0; stroke: #1f77b4; stroke-opacity: 0.8; stroke-width: 1.5"/>
<g clip-path="url(#p5639c1ad0f)">
<path d="M 0 3 C 0.795609 3 1.55874 2.683901 2.12132 2.12132 C 2.683901 1.55874 3 0.795609 3 0 C 3 -0.795609 2.683901 -1.55874 2.12132 -2.12132 C 1.55874 -2.683901 0.795609 -3 0 -3 C -0.795609 -3 -1.55874 -2.683901 -2.12132 -2.12132 C -2.683901 -1.55874 -3 -0.795609 -3 0 C -3 0.795609 -2.683901 1.55874 -2.12132 2.12132 C -1.55874 2.683901 -0.795609 3 0 3 z" transform="translate(270.440559 388.214901)" style="fill: #1f77b4; fill-opacity: 0.8; stroke: #1f77b4; stroke-opacity: 0.8"/>
<path d="M 0 3 C 0.795609 3 1.55874 2.683901 2.12132 2.12132 C 2.683901 1.55874 3 0.795609 3 0 C 3 -0.795609 2.683901 -1.55874 2.12132 -2.12132 C 1.55874 -2.683901 0.795609 -3 0 -3 C -0.795609 -3 -1.55874 -2.683901 -2.12132 -2.12132 C -2.683901 -1.55874 -3 -0.795609 -3 0 C -3 0.795609 -2.683901 1.55874 -2.12132 2.12132 C -1.55874 2.683901 -0.795609 3 0 3 z" transform="translate(351 401.217626)" style="fill: #1f77b4; fill-opacity: 0.8; stroke: #1f77b4; stroke-opacity: 0.8"/>
<path d="M 0 3 C 0.795609 3 1.55874 2.683901 2.12132 2.12132 C 2.683901 1.55874 3 0.795609 3 0 C 3 -0.795609 2.683901 -1.55874 2.12132 -2.12132 C 1.55874 -2.683901 0.795609 -3 0 -3 C -0.795609 -3 -1.55874 -2.683901 -2.12132 -2.12132 C -2.683901 -1.55874 -3 -0.795609 -3 0 C -3 0.795609 -2.683901 1.55874 -2.12132 2.12132 C -1.55874 2.683901 -0.795609 3 0 3 z" transform="translate(431.559441 313.449231)" style="fill: #1f77b4; fill-opacity: 0.8; stroke: #1f77b4; stroke-opacity: 0.8"/>
</g>
</g>
<g id="line2d_60">
<path d="M 270.440559 426.041011 L 351 410.378637 L 431.559441 366.346681" clip-path="url(#p5639c1ad0f)" style="fill: none; stroke-dasharray: 5.55,2.4; stroke-dashoffset: 0; stroke: #ff7f0e; stroke-opacity: 0.8; stroke-width: 1.5"/>
<g clip-path="url(#p5639c1ad0f)">
<path d="M 0 -3 L -0.673542 -0.927051 L -2.85317 -0.927051 L -1.089814 0.354102 L -1.763356 2.427051 L -0 1.145898 L 1.763356 2.427051 L 1.089814 0.354102 L 2.85317 -0.927051 L 0.673542 -0.927051 z" transform="translate(270.440559 426.041011)" style="fill: #ff7f0e; fill-opacity: 0.8; stroke: #ff7f0e; stroke-opacity: 0.8; stroke-linejoin: bevel"/>
<path d="M 0 -3 L -0.673542 -0.927051 L -2.85317 -0.927051 L -1.089814 0.354102 L -1.763356 2.427051 L -0 1.145898 L 1.763356 2.427051 L 1.089814 0.354102 L 2.85317 -0.927051 L 0.673542 -0.927051 z" transform="translate(351 410.378637)" style="fill: #ff7f0e; fill-opacity: 0.8; stroke: #ff7f0e; stroke-opacity: 0.8; stroke-linejoin: bevel"/>
<path d="M 0 -3 L -0.673542 -0.927051 L -2.85317 -0.927051 L -1.089814 0.354102 L -1.763356 2.427051 L -0 1.145898 L 1.763356 2.427051 L 1.089814 0.354102 L 2.85317 -0.927051 L 0.673542 -0.927051 z" transform="translate(431.559441 366.346681)" style="fill: #ff7f0e; fill-opacity: 0.8; stroke: #ff7f0e; stroke-opacity: 0.8; stroke-linejoin: bevel"/>
</g>
</g>
<g id="line2d_61">
<path d="M 270.440559 435.202022 L 351 370.779429 L 431.559441 370.779429" clip-path="url(#p5639c1ad0f)" style="fill: none; stroke-dasharray: 5.55,2.4; stroke-dashoffset: 0; stroke: #2ca02c; stroke-opacity: 0.8; stroke-width: 1.5"/>
<g clip-path="url(#p5639c1ad0f)">
<path d="M -0 3 L 3 -3 L -3 -3 z" transform="translate(270.440559 435.202022)" style="fill: #2ca02c; fill-opacity: 0.8; stroke: #2ca02c; stroke-opacity: 0.8; stroke-linejoin: miter"/>
<path d="M -0 3 L 3 -3 L -3 -3 z" transform="translate(351 370.779429)" style="fill: #2ca02c; fill-opacity: 0.8; stroke: #2ca02c; stroke-opacity: 0.8; stroke-linejoin: miter"/>
<path d="M -0 3 L 3 -3 L -3 -3 z" transform="translate(431.559441 370.779429)" style="fill: #2ca02c; fill-opacity: 0.8; stroke: #2ca02c; stroke-opacity: 0.8; stroke-linejoin: miter"/>
</g>
</g>
<g id="sp_11_left" transform="translate(0.692308 0)">
<path d="M 262.384615 478.938462 L 262.384615 272.076923" style="fill: none; stroke: #000000; stroke-linejoin: miter; stroke-linecap: square"/>
</g>
<g id="sp_11_right" transform="translate(0.692308 0)">
<path d="M 439.615385 478.938462 L 439.615385 272.076923" style="fill: none; stroke: #000000; stroke-linejoin: miter; stroke-linecap: square"/>
</g>
<g id="sp_11_bottom">
<path d="M 262.384615 478.938462 L 439.615385 478.938462" style="fill: none; stroke: #000000; stroke-linejoin: miter; stroke-linecap: square"/>
</g>
<g id="sp_11_top">
<path d="M 262.384615 272.076923 L 439.615385 272.076923" style="fill: none; stroke: #000000; stroke-linejoin: miter; stroke-linecap: square"/>
</g>
<g id="text_55">
<g transform="translate(272.94 266.076923)">
<text style="white-space: pre"><tspan x="0 7.236328 10.570312 17.912109 22.617188 26.431641 31.113281 38.748047 42.5625 46.376953 54.011719 58.693359 62.736328 66.550781 74.888672 82.271484 89.373047 93.703125 101.320312 108.703125 115.804688" y="-0.875" style="font-size: 12px; font-family: 'DejaVu Sans', sans-serif">Plot (2, 2): Rev-dev </tspan><tspan x="119.619141 129.972656" y="-0.875" style="font-style: oblique; font-size: 12px; font-family: 'DejaVu Sans', sans-serif">Ma</tspan><tspan x="137.326172" y="-0.875" style="font-size: 12px; font-family: 'DejaVu Sans', sans-serif">.</tspan><tspan x="143.478516" y="-0.875" style="font-style: oblique; font-size: 12px; font-family: 'DejaVu Sans', sans-serif">F</tspan><tspan x="150.380859" y="1.09375" style="font-size: 8.4px; font-family: 'DejaVu Sans', sans-serif">1</tspan></text>
</g>
</g>
<g id="legend_4">
<g id="patch_9">
<path d="M 269.384615 324.111298 L 332.015865 324.111298 Q 334.015865 324.111298 334.015865 322.111298 L 334.015865 279.076923 Q 334.015865 277.076923 332.015865 277.076923 L 269.384615 277.076923 Q 267.384615 277.076923 267.384615 279.076923 L 267.384615 322.111298 Q 267.384615 324.111298 269.384615 324.111298 z" style="fill: #ffffff; opacity: 0.8; stroke: #cccccc; stroke-linejoin: miter"/>
</g>
<g id="line2d_62">
<path d="M 271.384615 285.175361 L 281.384615 285.175361 L 291.384615 285.175361" style="fill: none; stroke-dasharray: 5.55,2.4; stroke-dashoffset: 0; stroke: #1f77b4; stroke-opacity: 0.8; stroke-width: 1.5"/>
<g>
<path d="M 0 3 C 0.795609 3 1.55874 2.683901 2.12132 2.12132 C 2.683901 1.55874 3 0.795609 3 0 C 3 -0.795609 2.683901 -1.55874 2.12132 -2.12132 C 1.55874 -2.683901 0.795609 -3 0 -3 C -0.795609 -3 -1.55874 -2.683901 -2.12132 -2.12132 C -2.683901 -1.55874 -3 -0.795609 -3 0 C -3 0.795609 -2.683901 1.55874 -2.12132 2.12132 C -1.55874 2.683901 -0.795609 3 0 3 z" transform="translate(281.384615 285.175361)" style="fill: #1f77b4; fill-opacity: 0.8; stroke: #1f77b4; stroke-opacity: 0.8"/>
</g>
</g>
<g id="text_56">
<text style="font-size: 10px; font-family: 'DejaVu Sans', sans-serif; text-anchor: start" x="299.384615" y="288.675361" transform="rotate(-0 299.384615 288.675361)">S=0.1</text>
</g>
<g id="line2d_63">
<path d="M 271.384615 299.853486 L 281.384615 299.853486 L 291.384615 299.853486" style="fill: none; stroke-dasharray: 5.55,2.4; stroke-dashoffset: 0; stroke: #ff7f0e; stroke-opacity: 0.8; stroke-width: 1.5"/>
<g>
<path d="M 0 -3 L -0.673542 -0.927051 L -2.85317 -0.927051 L -1.089814 0.354102 L -1.763356 2.427051 L -0 1.145898 L 1.763356 2.427051 L 1.089814 0.354102 L 2.85317 -0.927051 L 0.673542 -0.927051 z" transform="translate(281.384615 299.853486)" style="fill: #ff7f0e; fill-opacity: 0.8; stroke: #ff7f0e; stroke-opacity: 0.8; stroke-linejoin: bevel"/>
</g>
</g>
<g id="text_57">
<text style="font-size: 10px; font-family: 'DejaVu Sans', sans-serif; text-anchor: start" x="299.384615" y="303.353486" transform="rotate(-0 299.384615 303.353486)">S=0.2</text>
</g>
<g id="line2d_64">
<path d="M 271.384615 314.531611 L 281.384615 314.531611 L 291.384615 314.531611" style="fill: none; stroke-dasharray: 5.55,2.4; stroke-dashoffset: 0; stroke: #2ca02c; stroke-opacity: 0.8; stroke-width: 1.5"/>
<g>
<path d="M -0 3 L 3 -3 L -3 -3 z" transform="translate(281.384615 314.531611)" style="fill: #2ca02c; fill-opacity: 0.8; stroke: #2ca02c; stroke-opacity: 0.8; stroke-linejoin: miter"/>
</g>
</g>
<g id="text_58">
<text style="font-size: 10px; font-family: 'DejaVu Sans', sans-serif; text-anchor: start" x="299.384615" y="318.031611" transform="rotate(-0 299.384615 318.031611)">S=0.3</text>
</g>
</g>
</g>
<g id="axes_5">
<g id="patch_10">
<path d="M 49.153846 729 L 226.384615 729 L 226.384615 520.753846 L 49.153846 520.753846 z" style="fill: #ffffff"/>
</g>
<g id="matplotlib.axis_9">
<g id="xtick_13">
<g id="line2d_65">
<g>
<path d="M 0 0 L 0 3.5" transform="translate(57.20979 729)" style="stroke: #000000; stroke-width: 0.8"/>
</g>
</g>
<g id="text_59">
<text style="font-size: 10px; font-family: 'DejaVu Sans', sans-serif; text-anchor: middle" x="57.20979" y="743.298437" transform="rotate(-0 57.20979 743.298437)">2</text>
</g>
</g>
<g id="xtick_14">
<g id="line2d_66">
<g>
<path d="M 0 0 L 0 3.5" transform="translate(137.769231 729)" style="stroke: #000000; stroke-width: 0.8"/>
</g>
</g>
<g id="text_60">
<text style="font-size: 10px; font-family: 'DejaVu Sans', sans-serif; text-anchor: middle" x="137.769231" y="743.298437" transform="rotate(-0 137.769231 743.298437)">4</text>
</g>
</g>
<g id="xtick_15">
<g id="line2d_67">
<g>
<path d="M 0 0 L 0 3.5" transform="translate(218.328671 729)" style="stroke: #000000; stroke-width: 0.8"/>
</g>
</g>
<g id="text_61">
<text style="font-size: 10px; font-family: 'DejaVu Sans', sans-serif; text-anchor: middle" x="218.328671" y="743.298437" transform="rotate(-0 218.328671 743.298437)">8</text>
</g>
</g>
<g id="text_62">
<text style="font-size: 10px; font-family: 'DejaVu Sans', sans-serif; text-anchor: middle" x="137.769231" y="756.976562" transform="rotate(-0 137.769231 756.976562)">Factor N</text>
</g>
</g>
<g id="matplotlib.axis_10">
<g id="ytick_29">
<g id="line2d_68">
<g>
<path d="M 0 0 L -3.5 0" transform="translate(49.153846 729)" style="stroke: #000000; stroke-width: 0.8"/>
</g>
</g>
<g id="text_63">
<text style="font-size: 10px; font-family: 'DejaVu Sans', sans-serif; text-anchor: end" x="42.153846" y="732.522296" transform="rotate(-0 42.153846 732.522296)">45</text>
</g>
</g>
<g id="ytick_30">
<g id="line2d_69">
<g>
<path d="M 0 0 L -3.5 0" transform="translate(49.153846 708.175385)" style="stroke: #000000; stroke-width: 0.8"/>
</g>
</g>
<g id="text_64">
<text style="font-size: 10px; font-family: 'DejaVu Sans', sans-serif; text-anchor: end" x="42.153846" y="711.69768" transform="rotate(-0 42.153846 711.69768)">47</text>
</g>
</g>
<g id="ytick_31">
<g id="line2d_70">
<g>
<path d="M 0 0 L -3.5 0" transform="translate(49.153846 687.350769)" style="stroke: #000000; stroke-width: 0.8"/>
</g>
</g>
<g id="text_65">
<text style="font-size: 10px; font-family: 'DejaVu Sans', sans-serif; text-anchor: end" x="42.153846" y="690.873065" transform="rotate(-0 42.153846 690.873065)">49</text>
</g>
</g>
<g id="ytick_32">
<g id="line2d_71">
<g>
<path d="M 0 0 L -3.5 0" transform="translate(49.153846 666.526154)" style="stroke: #000000; stroke-width: 0.8"/>
</g>
</g>
<g id="text_66">
<text style="font-size: 10px; font-family: 'DejaVu Sans', sans-serif; text-anchor: end" x="42.153846" y="670.04845" transform="rotate(-0 42.153846 670.04845)">51</text>
</g>
</g>
<g id="ytick_33">
<g id="line2d_72">
<g>
<path d="M 0 0 L -3.5 0" transform="translate(49.153846 645.701538)" style="stroke: #000000; stroke-width: 0.8"/>
</g>
</g>
<g id="text_67">
<text style="font-size: 10px; font-family: 'DejaVu Sans', sans-serif; text-anchor: end" x="42.153846" y="649.223834" transform="rotate(-0 42.153846 649.223834)">53</text>
</g>
</g>
<g id="ytick_34">
<g id="line2d_73">
<g>
<path d="M 0 0 L -3.5 0" transform="translate(49.153846 624.876923)" style="stroke: #000000; stroke-width: 0.8"/>
</g>
</g>
<g id="text_68">
<text style="font-size: 10px; font-family: 'DejaVu Sans', sans-serif; text-anchor: end" x="42.153846" y="628.399219" transform="rotate(-0 42.153846 628.399219)">55</text>
</g>
</g>
<g id="ytick_35">
<g id="line2d_74">
<g>
<path d="M 0 0 L -3.5 0" transform="translate(49.153846 604.052308)" style="stroke: #000000; stroke-width: 0.8"/>
</g>
</g>
<g id="text_69">
<text style="font-size: 10px; font-family: 'DejaVu Sans', sans-serif; text-anchor: end" x="42.153846" y="607.574603" transform="rotate(-0 42.153846 607.574603)">57</text>
</g>
</g>
<g id="ytick_36">
<g id="line2d_75">
<g>
<path d="M 0 0 L -3.5 0" transform="translate(49.153846 583.227692)" style="stroke: #000000; stroke-width: 0.8"/>
</g>
</g>
<g id="text_70">
<text style="font-size: 10px; font-family: 'DejaVu Sans', sans-serif; text-anchor: end" x="42.153846" y="586.749988" transform="rotate(-0 42.153846 586.749988)">59</text>
</g>
</g>
<g id="ytick_37">
<g id="line2d_76">
<g>
<path d="M 0 0 L -3.5 0" transform="translate(49.153846 562.403077)" style="stroke: #000000; stroke-width: 0.8"/>
</g>
</g>
<g id="text_71">
<text style="font-size: 10px; font-family: 'DejaVu Sans', sans-serif; text-anchor: end" x="42.153846" y="565.925373" transform="rotate(-0 42.153846 565.925373)">61</text>
</g>
</g>
<g id="ytick_38">
<g id="line2d_77">
<g>
<path d="M 0 0 L -3.5 0" transform="translate(49.153846 541.578462)" style="stroke: #000000; stroke-width: 0.8"/>
</g>
</g>
<g id="text_72">
<text style="font-size: 10px; font-family: 'DejaVu Sans', sans-serif; text-anchor: end" x="42.153846" y="545.100757" transform="rotate(-0 42.153846 545.100757)">63</text>
</g>
</g>
<g id="text_73">
<text style="font-size: 10px; font-family: 'DejaVu Sans', sans-serif; text-anchor: middle" x="22.549159" y="624.876923" transform="rotate(-90 22.549159 624.876923)">F1 score</text>
</g>
</g>
<g id="line2d_78">
<path d="M 57.20979 652.157169 L 137.769231 638.100554 L 218.328671 575.730831" clip-path="url(#p26942ff8b8)" style="fill: none; stroke-dasharray: 5.55,2.4; stroke-dashoffset: 0; stroke: #1f77b4; stroke-opacity: 0.8; stroke-width: 1.5"/>
<g clip-path="url(#p26942ff8b8)">
<path d="M 0 3 C 0.795609 3 1.55874 2.683901 2.12132 2.12132 C 2.683901 1.55874 3 0.795609 3 0 C 3 -0.795609 2.683901 -1.55874 2.12132 -2.12132 C 1.55874 -2.683901 0.795609 -3 0 -3 C -0.795609 -3 -1.55874 -2.683901 -2.12132 -2.12132 C -2.683901 -1.55874 -3 -0.795609 -3 0 C -3 0.795609 -2.683901 1.55874 -2.12132 2.12132 C -1.55874 2.683901 -0.795609 3 0 3 z" transform="translate(57.20979 652.157169)" style="fill: #1f77b4; fill-opacity: 0.8; stroke: #1f77b4; stroke-opacity: 0.8"/>
<path d="M 0 3 C 0.795609 3 1.55874 2.683901 2.12132 2.12132 C 2.683901 1.55874 3 0.795609 3 0 C 3 -0.795609 2.683901 -1.55874 2.12132 -2.12132 C 1.55874 -2.683901 0.795609 -3 0 -3 C -0.795609 -3 -1.55874 -2.683901 -2.12132 -2.12132 C -2.683901 -1.55874 -3 -0.795609 -3 0 C -3 0.795609 -2.683901 1.55874 -2.12132 2.12132 C -1.55874 2.683901 -0.795609 3 0 3 z" transform="translate(137.769231 638.100554)" style="fill: #1f77b4; fill-opacity: 0.8; stroke: #1f77b4; stroke-opacity: 0.8"/>
<path d="M 0 3 C 0.795609 3 1.55874 2.683901 2.12132 2.12132 C 2.683901 1.55874 3 0.795609 3 0 C 3 -0.795609 2.683901 -1.55874 2.12132 -2.12132 C 1.55874 -2.683901 0.795609 -3 0 -3 C -0.795609 -3 -1.55874 -2.683901 -2.12132 -2.12132 C -2.683901 -1.55874 -3 -0.795609 -3 0 C -3 0.795609 -2.683901 1.55874 -2.12132 2.12132 C -1.55874 2.683901 -0.795609 3 0 3 z" transform="translate(218.328671 575.730831)" style="fill: #1f77b4; fill-opacity: 0.8; stroke: #1f77b4; stroke-opacity: 0.8"/>
</g>
</g>
<g id="line2d_79">
<path d="M 57.20979 651.948923 L 137.769231 616.338831 L 218.328671 536.892923" clip-path="url(#p26942ff8b8)" style="fill: none; stroke-dasharray: 5.55,2.4; stroke-dashoffset: 0; stroke: #ff7f0e; stroke-opacity: 0.8; stroke-width: 1.5"/>
<g clip-path="url(#p26942ff8b8)">
<path d="M 0 -3 L -0.673542 -0.927051 L -2.85317 -0.927051 L -1.089814 0.354102 L -1.763356 2.427051 L -0 1.145898 L 1.763356 2.427051 L 1.089814 0.354102 L 2.85317 -0.927051 L 0.673542 -0.927051 z" transform="translate(57.20979 651.948923)" style="fill: #ff7f0e; fill-opacity: 0.8; stroke: #ff7f0e; stroke-opacity: 0.8; stroke-linejoin: bevel"/>
<path d="M 0 -3 L -0.673542 -0.927051 L -2.85317 -0.927051 L -1.089814 0.354102 L -1.763356 2.427051 L -0 1.145898 L 1.763356 2.427051 L 1.089814 0.354102 L 2.85317 -0.927051 L 0.673542 -0.927051 z" transform="translate(137.769231 616.338831)" style="fill: #ff7f0e; fill-opacity: 0.8; stroke: #ff7f0e; stroke-opacity: 0.8; stroke-linejoin: bevel"/>
<path d="M 0 -3 L -0.673542 -0.927051 L -2.85317 -0.927051 L -1.089814 0.354102 L -1.763356 2.427051 L -0 1.145898 L 1.763356 2.427051 L 1.089814 0.354102 L 2.85317 -0.927051 L 0.673542 -0.927051 z" transform="translate(218.328671 536.892923)" style="fill: #ff7f0e; fill-opacity: 0.8; stroke: #ff7f0e; stroke-opacity: 0.8; stroke-linejoin: bevel"/>
</g>
</g>
<g id="line2d_80">
<path d="M 57.20979 702.760985 L 137.769231 617.796554 L 218.328671 570.316431" clip-path="url(#p26942ff8b8)" style="fill: none; stroke-dasharray: 5.55,2.4; stroke-dashoffset: 0; stroke: #2ca02c; stroke-opacity: 0.8; stroke-width: 1.5"/>
<g clip-path="url(#p26942ff8b8)">
<path d="M -0 3 L 3 -3 L -3 -3 z" transform="translate(57.20979 702.760985)" style="fill: #2ca02c; fill-opacity: 0.8; stroke: #2ca02c; stroke-opacity: 0.8; stroke-linejoin: miter"/>
<path d="M -0 3 L 3 -3 L -3 -3 z" transform="translate(137.769231 617.796554)" style="fill: #2ca02c; fill-opacity: 0.8; stroke: #2ca02c; stroke-opacity: 0.8; stroke-linejoin: miter"/>
<path d="M -0 3 L 3 -3 L -3 -3 z" transform="translate(218.328671 570.316431)" style="fill: #2ca02c; fill-opacity: 0.8; stroke: #2ca02c; stroke-opacity: 0.8; stroke-linejoin: miter"/>
</g>
</g>
<g id="sp_20_left" transform="translate(0.692308 0)">
<path d="M 49.153846 729 L 49.153846 520.753846" style="fill: none; stroke: #000000; stroke-linejoin: miter; stroke-linecap: square"/>
</g>
<g id="sp_20_right" transform="translate(0.692308 0)">
<path d="M 226.384615 729 L 226.384615 520.753846" style="fill: none; stroke: #000000; stroke-linejoin: miter; stroke-linecap: square"/>
</g>
<g id="sp_20_bottom">
<path d="M 49.153846 729 L 226.384615 729" style="fill: none; stroke: #000000; stroke-linejoin: miter; stroke-linecap: square"/>
</g>
<g id="sp_20_top">
<path d="M 49.153846 520.753846 L 226.384615 520.753846" style="fill: none; stroke: #000000; stroke-linejoin: miter; stroke-linecap: square"/>
</g>
<g id="text_74">
<g transform="translate(50.169231 514.753846)">
<text style="white-space: pre"><tspan x="0 7.236328 10.570312 17.912109 22.617188 26.431641 31.113281 38.748047 42.5625 46.376953 54.011719 58.693359 62.736328 66.550781 74.888672 82.271484 89.373047 93.703125 98.408203 105.791016 112.042969 116.748047 120.5625 132.427734 136.242188 140.056641 150.410156 158.789062" y="-0.875" style="font-size: 12px; font-family: 'DejaVu Sans', sans-serif">Plot (3, 1): Rev-test W. MC </tspan><tspan x="162.603516" y="-0.875" style="font-style: oblique; font-size: 12px; font-family: 'DejaVu Sans', sans-serif">F</tspan><tspan x="169.505859" y="1.09375" style="font-size: 8.4px; font-family: 'DejaVu Sans', sans-serif">1</tspan></text>
</g>
</g>
<g id="legend_5">
<g id="patch_11">
<path d="M 56.153846 572.788221 L 118.785096 572.788221 Q 120.785096 572.788221 120.785096 570.788221 L 120.785096 527.753846 Q 120.785096 525.753846 118.785096 525.753846 L 56.153846 525.753846 Q 54.153846 525.753846 54.153846 527.753846 L 54.153846 570.788221 Q 54.153846 572.788221 56.153846 572.788221 z" style="fill: #ffffff; opacity: 0.8; stroke: #cccccc; stroke-linejoin: miter"/>
</g>
<g id="line2d_81">
<path d="M 58.153846 533.852284 L 68.153846 533.852284 L 78.153846 533.852284" style="fill: none; stroke-dasharray: 5.55,2.4; stroke-dashoffset: 0; stroke: #1f77b4; stroke-opacity: 0.8; stroke-width: 1.5"/>
<g>
<path d="M 0 3 C 0.795609 3 1.55874 2.683901 2.12132 2.12132 C 2.683901 1.55874 3 0.795609 3 0 C 3 -0.795609 2.683901 -1.55874 2.12132 -2.12132 C 1.55874 -2.683901 0.795609 -3 0 -3 C -0.795609 -3 -1.55874 -2.683901 -2.12132 -2.12132 C -2.683901 -1.55874 -3 -0.795609 -3 0 C -3 0.795609 -2.683901 1.55874 -2.12132 2.12132 C -1.55874 2.683901 -0.795609 3 0 3 z" transform="translate(68.153846 533.852284)" style="fill: #1f77b4; fill-opacity: 0.8; stroke: #1f77b4; stroke-opacity: 0.8"/>
</g>
</g>
<g id="text_75">
<text style="font-size: 10px; font-family: 'DejaVu Sans', sans-serif; text-anchor: start" x="86.153846" y="537.352284" transform="rotate(-0 86.153846 537.352284)">S=0.1</text>
</g>
<g id="line2d_82">
<path d="M 58.153846 548.530409 L 68.153846 548.530409 L 78.153846 548.530409" style="fill: none; stroke-dasharray: 5.55,2.4; stroke-dashoffset: 0; stroke: #ff7f0e; stroke-opacity: 0.8; stroke-width: 1.5"/>
<g>
<path d="M 0 -3 L -0.673542 -0.927051 L -2.85317 -0.927051 L -1.089814 0.354102 L -1.763356 2.427051 L -0 1.145898 L 1.763356 2.427051 L 1.089814 0.354102 L 2.85317 -0.927051 L 0.673542 -0.927051 z" transform="translate(68.153846 548.530409)" style="fill: #ff7f0e; fill-opacity: 0.8; stroke: #ff7f0e; stroke-opacity: 0.8; stroke-linejoin: bevel"/>
</g>
</g>
<g id="text_76">
<text style="font-size: 10px; font-family: 'DejaVu Sans', sans-serif; text-anchor: start" x="86.153846" y="552.030409" transform="rotate(-0 86.153846 552.030409)">S=0.2</text>
</g>
<g id="line2d_83">
<path d="M 58.153846 563.208534 L 68.153846 563.208534 L 78.153846 563.208534" style="fill: none; stroke-dasharray: 5.55,2.4; stroke-dashoffset: 0; stroke: #2ca02c; stroke-opacity: 0.8; stroke-width: 1.5"/>
<g>
<path d="M -0 3 L 3 -3 L -3 -3 z" transform="translate(68.153846 563.208534)" style="fill: #2ca02c; fill-opacity: 0.8; stroke: #2ca02c; stroke-opacity: 0.8; stroke-linejoin: miter"/>
</g>
</g>
<g id="text_77">
<text style="font-size: 10px; font-family: 'DejaVu Sans', sans-serif; text-anchor: start" x="86.153846" y="566.708534" transform="rotate(-0 86.153846 566.708534)">S=0.3</text>
</g>
</g>
</g>
<g id="axes_6">
<g id="patch_12">
<path d="M 262.384615 729 L 439.615385 729 L 439.615385 520.753846 L 262.384615 520.753846 z" style="fill: #ffffff"/>
</g>
<g id="matplotlib.axis_11">
<g id="xtick_16">
<g id="line2d_84">
<g>
<path d="M 0 0 L 0 3.5" transform="translate(270.440559 729)" style="stroke: #000000; stroke-width: 0.8"/>
</g>
</g>
<g id="text_78">
<text style="font-size: 10px; font-family: 'DejaVu Sans', sans-serif; text-anchor: middle" x="270.440559" y="743.298437" transform="rotate(-0 270.440559 743.298437)">2</text>
</g>
</g>
<g id="xtick_17">
<g id="line2d_85">
<g>
<path d="M 0 0 L 0 3.5" transform="translate(351 729)" style="stroke: #000000; stroke-width: 0.8"/>
</g>
</g>
<g id="text_79">
<text style="font-size: 10px; font-family: 'DejaVu Sans', sans-serif; text-anchor: middle" x="351" y="743.298437" transform="rotate(-0 351 743.298437)">4</text>
</g>
</g>
<g id="xtick_18">
<g id="line2d_86">
<g>
<path d="M 0 0 L 0 3.5" transform="translate(431.559441 729)" style="stroke: #000000; stroke-width: 0.8"/>
</g>
</g>
<g id="text_80">
<text style="font-size: 10px; font-family: 'DejaVu Sans', sans-serif; text-anchor: middle" x="431.559441" y="743.298437" transform="rotate(-0 431.559441 743.298437)">8</text>
</g>
</g>
<g id="text_81">
<text style="font-size: 10px; font-family: 'DejaVu Sans', sans-serif; text-anchor: middle" x="351" y="756.976562" transform="rotate(-0 351 756.976562)">Factor N</text>
</g>
</g>
<g id="matplotlib.axis_12">
<g id="ytick_39">
<g id="line2d_87">
<g>
<path d="M 0 0 L -3.5 0" transform="translate(262.384615 729)" style="stroke: #000000; stroke-width: 0.8"/>
</g>
</g>
<g id="text_82">
<text style="font-size: 10px; font-family: 'DejaVu Sans', sans-serif; text-anchor: end" x="255.384615" y="732.522296" transform="rotate(-0 255.384615 732.522296)">33</text>
</g>
</g>
<g id="ytick_40">
<g id="line2d_88">
<g>
<path d="M 0 0 L -3.5 0" transform="translate(262.384615 702.969231)" style="stroke: #000000; stroke-width: 0.8"/>
</g>
</g>
<g id="text_83">
<text style="font-size: 10px; font-family: 'DejaVu Sans', sans-serif; text-anchor: end" x="255.384615" y="706.491526" transform="rotate(-0 255.384615 706.491526)">35</text>
</g>
</g>
<g id="ytick_41">
<g id="line2d_89">
<g>
<path d="M 0 0 L -3.5 0" transform="translate(262.384615 676.938462)" style="stroke: #000000; stroke-width: 0.8"/>
</g>
</g>
<g id="text_84">
<text style="font-size: 10px; font-family: 'DejaVu Sans', sans-serif; text-anchor: end" x="255.384615" y="680.460757" transform="rotate(-0 255.384615 680.460757)">37</text>
</g>
</g>
<g id="ytick_42">
<g id="line2d_90">
<g>
<path d="M 0 0 L -3.5 0" transform="translate(262.384615 650.907692)" style="stroke: #000000; stroke-width: 0.8"/>
</g>
</g>
<g id="text_85">
<text style="font-size: 10px; font-family: 'DejaVu Sans', sans-serif; text-anchor: end" x="255.384615" y="654.429988" transform="rotate(-0 255.384615 654.429988)">39</text>
</g>
</g>
<g id="ytick_43">
<g id="line2d_91">
<g>
<path d="M 0 0 L -3.5 0" transform="translate(262.384615 624.876923)" style="stroke: #000000; stroke-width: 0.8"/>
</g>
</g>
<g id="text_86">
<text style="font-size: 10px; font-family: 'DejaVu Sans', sans-serif; text-anchor: end" x="255.384615" y="628.399219" transform="rotate(-0 255.384615 628.399219)">41</text>
</g>
</g>
<g id="ytick_44">
<g id="line2d_92">
<g>
<path d="M 0 0 L -3.5 0" transform="translate(262.384615 598.846154)" style="stroke: #000000; stroke-width: 0.8"/>
</g>
</g>
<g id="text_87">
<text style="font-size: 10px; font-family: 'DejaVu Sans', sans-serif; text-anchor: end" x="255.384615" y="602.36845" transform="rotate(-0 255.384615 602.36845)">43</text>
</g>
</g>
<g id="ytick_45">
<g id="line2d_93">
<g>
<path d="M 0 0 L -3.5 0" transform="translate(262.384615 572.815385)" style="stroke: #000000; stroke-width: 0.8"/>
</g>
</g>
<g id="text_88">
<text style="font-size: 10px; font-family: 'DejaVu Sans', sans-serif; text-anchor: end" x="255.384615" y="576.33768" transform="rotate(-0 255.384615 576.33768)">45</text>
</g>
</g>
<g id="ytick_46">
<g id="line2d_94">
<g>
<path d="M 0 0 L -3.5 0" transform="translate(262.384615 546.784615)" style="stroke: #000000; stroke-width: 0.8"/>
</g>
</g>
<g id="text_89">
<text style="font-size: 10px; font-family: 'DejaVu Sans', sans-serif; text-anchor: end" x="255.384615" y="550.306911" transform="rotate(-0 255.384615 550.306911)">47</text>
</g>
</g>
</g>
<g id="line2d_95">
<path d="M 270.440559 675.897231 L 351 636.330462 L 431.559441 572.294769" clip-path="url(#pde11c154f8)" style="fill: none; stroke-dasharray: 5.55,2.4; stroke-dashoffset: 0; stroke: #1f77b4; stroke-opacity: 0.8; stroke-width: 1.5"/>
<g clip-path="url(#pde11c154f8)">
<path d="M 0 3 C 0.795609 3 1.55874 2.683901 2.12132 2.12132 C 2.683901 1.55874 3 0.795609 3 0 C 3 -0.795609 2.683901 -1.55874 2.12132 -2.12132 C 1.55874 -2.683901 0.795609 -3 0 -3 C -0.795609 -3 -1.55874 -2.683901 -2.12132 -2.12132 C -2.683901 -1.55874 -3 -0.795609 -3 0 C -3 0.795609 -2.683901 1.55874 -2.12132 2.12132 C -1.55874 2.683901 -0.795609 3 0 3 z" transform="translate(270.440559 675.897231)" style="fill: #1f77b4; fill-opacity: 0.8; stroke: #1f77b4; stroke-opacity: 0.8"/>
<path d="M 0 3 C 0.795609 3 1.55874 2.683901 2.12132 2.12132 C 2.683901 1.55874 3 0.795609 3 0 C 3 -0.795609 2.683901 -1.55874 2.12132 -2.12132 C 1.55874 -2.683901 0.795609 -3 0 -3 C -0.795609 -3 -1.55874 -2.683901 -2.12132 -2.12132 C -2.683901 -1.55874 -3 -0.795609 -3 0 C -3 0.795609 -2.683901 1.55874 -2.12132 2.12132 C -1.55874 2.683901 -0.795609 3 0 3 z" transform="translate(351 636.330462)" style="fill: #1f77b4; fill-opacity: 0.8; stroke: #1f77b4; stroke-opacity: 0.8"/>
<path d="M 0 3 C 0.795609 3 1.55874 2.683901 2.12132 2.12132 C 2.683901 1.55874 3 0.795609 3 0 C 3 -0.795609 2.683901 -1.55874 2.12132 -2.12132 C 1.55874 -2.683901 0.795609 -3 0 -3 C -0.795609 -3 -1.55874 -2.683901 -2.12132 -2.12132 C -2.683901 -1.55874 -3 -0.795609 -3 0 C -3 0.795609 -2.683901 1.55874 -2.12132 2.12132 C -1.55874 2.683901 -0.795609 3 0 3 z" transform="translate(431.559441 572.294769)" style="fill: #1f77b4; fill-opacity: 0.8; stroke: #1f77b4; stroke-opacity: 0.8"/>
</g>
</g>
<g id="line2d_96">
<path d="M 270.440559 662.881846 L 351 622.794462 L 431.559441 534.550154" clip-path="url(#pde11c154f8)" style="fill: none; stroke-dasharray: 5.55,2.4; stroke-dashoffset: 0; stroke: #ff7f0e; stroke-opacity: 0.8; stroke-width: 1.5"/>
<g clip-path="url(#pde11c154f8)">
<path d="M 0 -3 L -0.673542 -0.927051 L -2.85317 -0.927051 L -1.089814 0.354102 L -1.763356 2.427051 L -0 1.145898 L 1.763356 2.427051 L 1.089814 0.354102 L 2.85317 -0.927051 L 0.673542 -0.927051 z" transform="translate(270.440559 662.881846)" style="fill: #ff7f0e; fill-opacity: 0.8; stroke: #ff7f0e; stroke-opacity: 0.8; stroke-linejoin: bevel"/>
<path d="M 0 -3 L -0.673542 -0.927051 L -2.85317 -0.927051 L -1.089814 0.354102 L -1.763356 2.427051 L -0 1.145898 L 1.763356 2.427051 L 1.089814 0.354102 L 2.85317 -0.927051 L 0.673542 -0.927051 z" transform="translate(351 622.794462)" style="fill: #ff7f0e; fill-opacity: 0.8; stroke: #ff7f0e; stroke-opacity: 0.8; stroke-linejoin: bevel"/>
<path d="M 0 -3 L -0.673542 -0.927051 L -2.85317 -0.927051 L -1.089814 0.354102 L -1.763356 2.427051 L -0 1.145898 L 1.763356 2.427051 L 1.089814 0.354102 L 2.85317 -0.927051 L 0.673542 -0.927051 z" transform="translate(431.559441 534.550154)" style="fill: #ff7f0e; fill-opacity: 0.8; stroke: #ff7f0e; stroke-opacity: 0.8; stroke-linejoin: bevel"/>
</g>
</g>
<g id="line2d_97">
<path d="M 270.440559 701.537538 L 351 605.223692 L 431.559441 568.780615" clip-path="url(#pde11c154f8)" style="fill: none; stroke-dasharray: 5.55,2.4; stroke-dashoffset: 0; stroke: #2ca02c; stroke-opacity: 0.8; stroke-width: 1.5"/>
<g clip-path="url(#pde11c154f8)">
<path d="M -0 3 L 3 -3 L -3 -3 z" transform="translate(270.440559 701.537538)" style="fill: #2ca02c; fill-opacity: 0.8; stroke: #2ca02c; stroke-opacity: 0.8; stroke-linejoin: miter"/>
<path d="M -0 3 L 3 -3 L -3 -3 z" transform="translate(351 605.223692)" style="fill: #2ca02c; fill-opacity: 0.8; stroke: #2ca02c; stroke-opacity: 0.8; stroke-linejoin: miter"/>
<path d="M -0 3 L 3 -3 L -3 -3 z" transform="translate(431.559441 568.780615)" style="fill: #2ca02c; fill-opacity: 0.8; stroke: #2ca02c; stroke-opacity: 0.8; stroke-linejoin: miter"/>
</g>
</g>
<g id="sp_21_left" transform="translate(0.692308 0)">
<path d="M 262.384615 729 L 262.384615 520.753846" style="fill: none; stroke: #000000; stroke-linejoin: miter; stroke-linecap: square"/>
</g>
<g id="sp_21_right" transform="translate(0.692308 0)">
<path d="M 439.615385 729 L 439.615385 520.753846" style="fill: none; stroke: #000000; stroke-linejoin: miter; stroke-linecap: square"/>
</g>
<g id="sp_21_bottom">
<path d="M 262.384615 729 L 439.615385 729" style="fill: none; stroke: #000000; stroke-linejoin: miter; stroke-linecap: square"/>
</g>
<g id="sp_21_top">
<path d="M 262.384615 520.753846 L 439.615385 520.753846" style="fill: none; stroke: #000000; stroke-linejoin: miter; stroke-linecap: square"/>
</g>
<g id="text_90">
<g transform="translate(263.88 514.753846)">
<text style="white-space: pre"><tspan x="0 7.236328 10.570312 17.912109 22.617188 26.431641 31.113281 38.748047 42.5625 46.376953 54.011719 58.693359 62.736328 66.550781 76.904297 85.283203 89.097656 96.714844 104.056641 111.398438 116.103516 119.917969" y="-0.875" style="font-size: 12px; font-family: 'DejaVu Sans', sans-serif">Plot (3, 2): MC boot. </tspan><tspan x="123.732422" y="-0.875" style="font-style: oblique; font-size: 12px; font-family: 'DejaVu Sans', sans-serif">F</tspan><tspan x="130.634766" y="1.09375" style="font-size: 8.4px; font-family: 'DejaVu Sans', sans-serif">1</tspan><tspan x="136.307227 140.12168 151.811133 159.193945 166.547461" y="-0.875" style="font-size: 12px; font-family: 'DejaVu Sans', sans-serif"> mean</tspan></text>
</g>
</g>
<g id="legend_6">
<g id="patch_13">
<path d="M 269.384615 572.788221 L 332.015865 572.788221 Q 334.015865 572.788221 334.015865 570.788221 L 334.015865 527.753846 Q 334.015865 525.753846 332.015865 525.753846 L 269.384615 525.753846 Q 267.384615 525.753846 267.384615 527.753846 L 267.384615 570.788221 Q 267.384615 572.788221 269.384615 572.788221 z" style="fill: #ffffff; opacity: 0.8; stroke: #cccccc; stroke-linejoin: miter"/>
</g>
<g id="line2d_98">
<path d="M 271.384615 533.852284 L 281.384615 533.852284 L 291.384615 533.852284" style="fill: none; stroke-dasharray: 5.55,2.4; stroke-dashoffset: 0; stroke: #1f77b4; stroke-opacity: 0.8; stroke-width: 1.5"/>
<g>
<path d="M 0 3 C 0.795609 3 1.55874 2.683901 2.12132 2.12132 C 2.683901 1.55874 3 0.795609 3 0 C 3 -0.795609 2.683901 -1.55874 2.12132 -2.12132 C 1.55874 -2.683901 0.795609 -3 0 -3 C -0.795609 -3 -1.55874 -2.683901 -2.12132 -2.12132 C -2.683901 -1.55874 -3 -0.795609 -3 0 C -3 0.795609 -2.683901 1.55874 -2.12132 2.12132 C -1.55874 2.683901 -0.795609 3 0 3 z" transform="translate(281.384615 533.852284)" style="fill: #1f77b4; fill-opacity: 0.8; stroke: #1f77b4; stroke-opacity: 0.8"/>
</g>
</g>
<g id="text_91">
<text style="font-size: 10px; font-family: 'DejaVu Sans', sans-serif; text-anchor: start" x="299.384615" y="537.352284" transform="rotate(-0 299.384615 537.352284)">S=0.1</text>
</g>
<g id="line2d_99">
<path d="M 271.384615 548.530409 L 281.384615 548.530409 L 291.384615 548.530409" style="fill: none; stroke-dasharray: 5.55,2.4; stroke-dashoffset: 0; stroke: #ff7f0e; stroke-opacity: 0.8; stroke-width: 1.5"/>
<g>
<path d="M 0 -3 L -0.673542 -0.927051 L -2.85317 -0.927051 L -1.089814 0.354102 L -1.763356 2.427051 L -0 1.145898 L 1.763356 2.427051 L 1.089814 0.354102 L 2.85317 -0.927051 L 0.673542 -0.927051 z" transform="translate(281.384615 548.530409)" style="fill: #ff7f0e; fill-opacity: 0.8; stroke: #ff7f0e; stroke-opacity: 0.8; stroke-linejoin: bevel"/>
</g>
</g>
<g id="text_92">
<text style="font-size: 10px; font-family: 'DejaVu Sans', sans-serif; text-anchor: start" x="299.384615" y="552.030409" transform="rotate(-0 299.384615 552.030409)">S=0.2</text>
</g>
<g id="line2d_100">
<path d="M 271.384615 563.208534 L 281.384615 563.208534 L 291.384615 563.208534" style="fill: none; stroke-dasharray: 5.55,2.4; stroke-dashoffset: 0; stroke: #2ca02c; stroke-opacity: 0.8; stroke-width: 1.5"/>
<g>
<path d="M -0 3 L 3 -3 L -3 -3 z" transform="translate(281.384615 563.208534)" style="fill: #2ca02c; fill-opacity: 0.8; stroke: #2ca02c; stroke-opacity: 0.8; stroke-linejoin: miter"/>
</g>
</g>
<g id="text_93">
<text style="font-size: 10px; font-family: 'DejaVu Sans', sans-serif; text-anchor: start" x="299.384615" y="566.708534" transform="rotate(-0 299.384615 566.708534)">S=0.3</text>
</g>
</g>
</g>
</g>
<defs>
<clipPath id="pee5f3b1efb">
<rect x="49.153846" y="22.153846" width="177.230769" height="207.692308"/>
</clipPath>
<clipPath id="p6c888c3117">
<rect x="262.384615" y="22.153846" width="177.230769" height="207.692308"/>
</clipPath>
<clipPath id="pd9469f0c66">
<rect x="49.153846" y="272.076923" width="177.230769" height="206.861538"/>
</clipPath>
<clipPath id="p5639c1ad0f">
<rect x="262.384615" y="272.076923" width="177.230769" height="206.861538"/>
</clipPath>
<clipPath id="p26942ff8b8">
<rect x="49.153846" y="520.753846" width="177.230769" height="208.246154"/>
</clipPath>
<clipPath id="pde11c154f8">
<rect x="262.384615" y="520.753846" width="177.230769" height="208.246154"/>
</clipPath>
</defs>
</svg>

</body></html>
